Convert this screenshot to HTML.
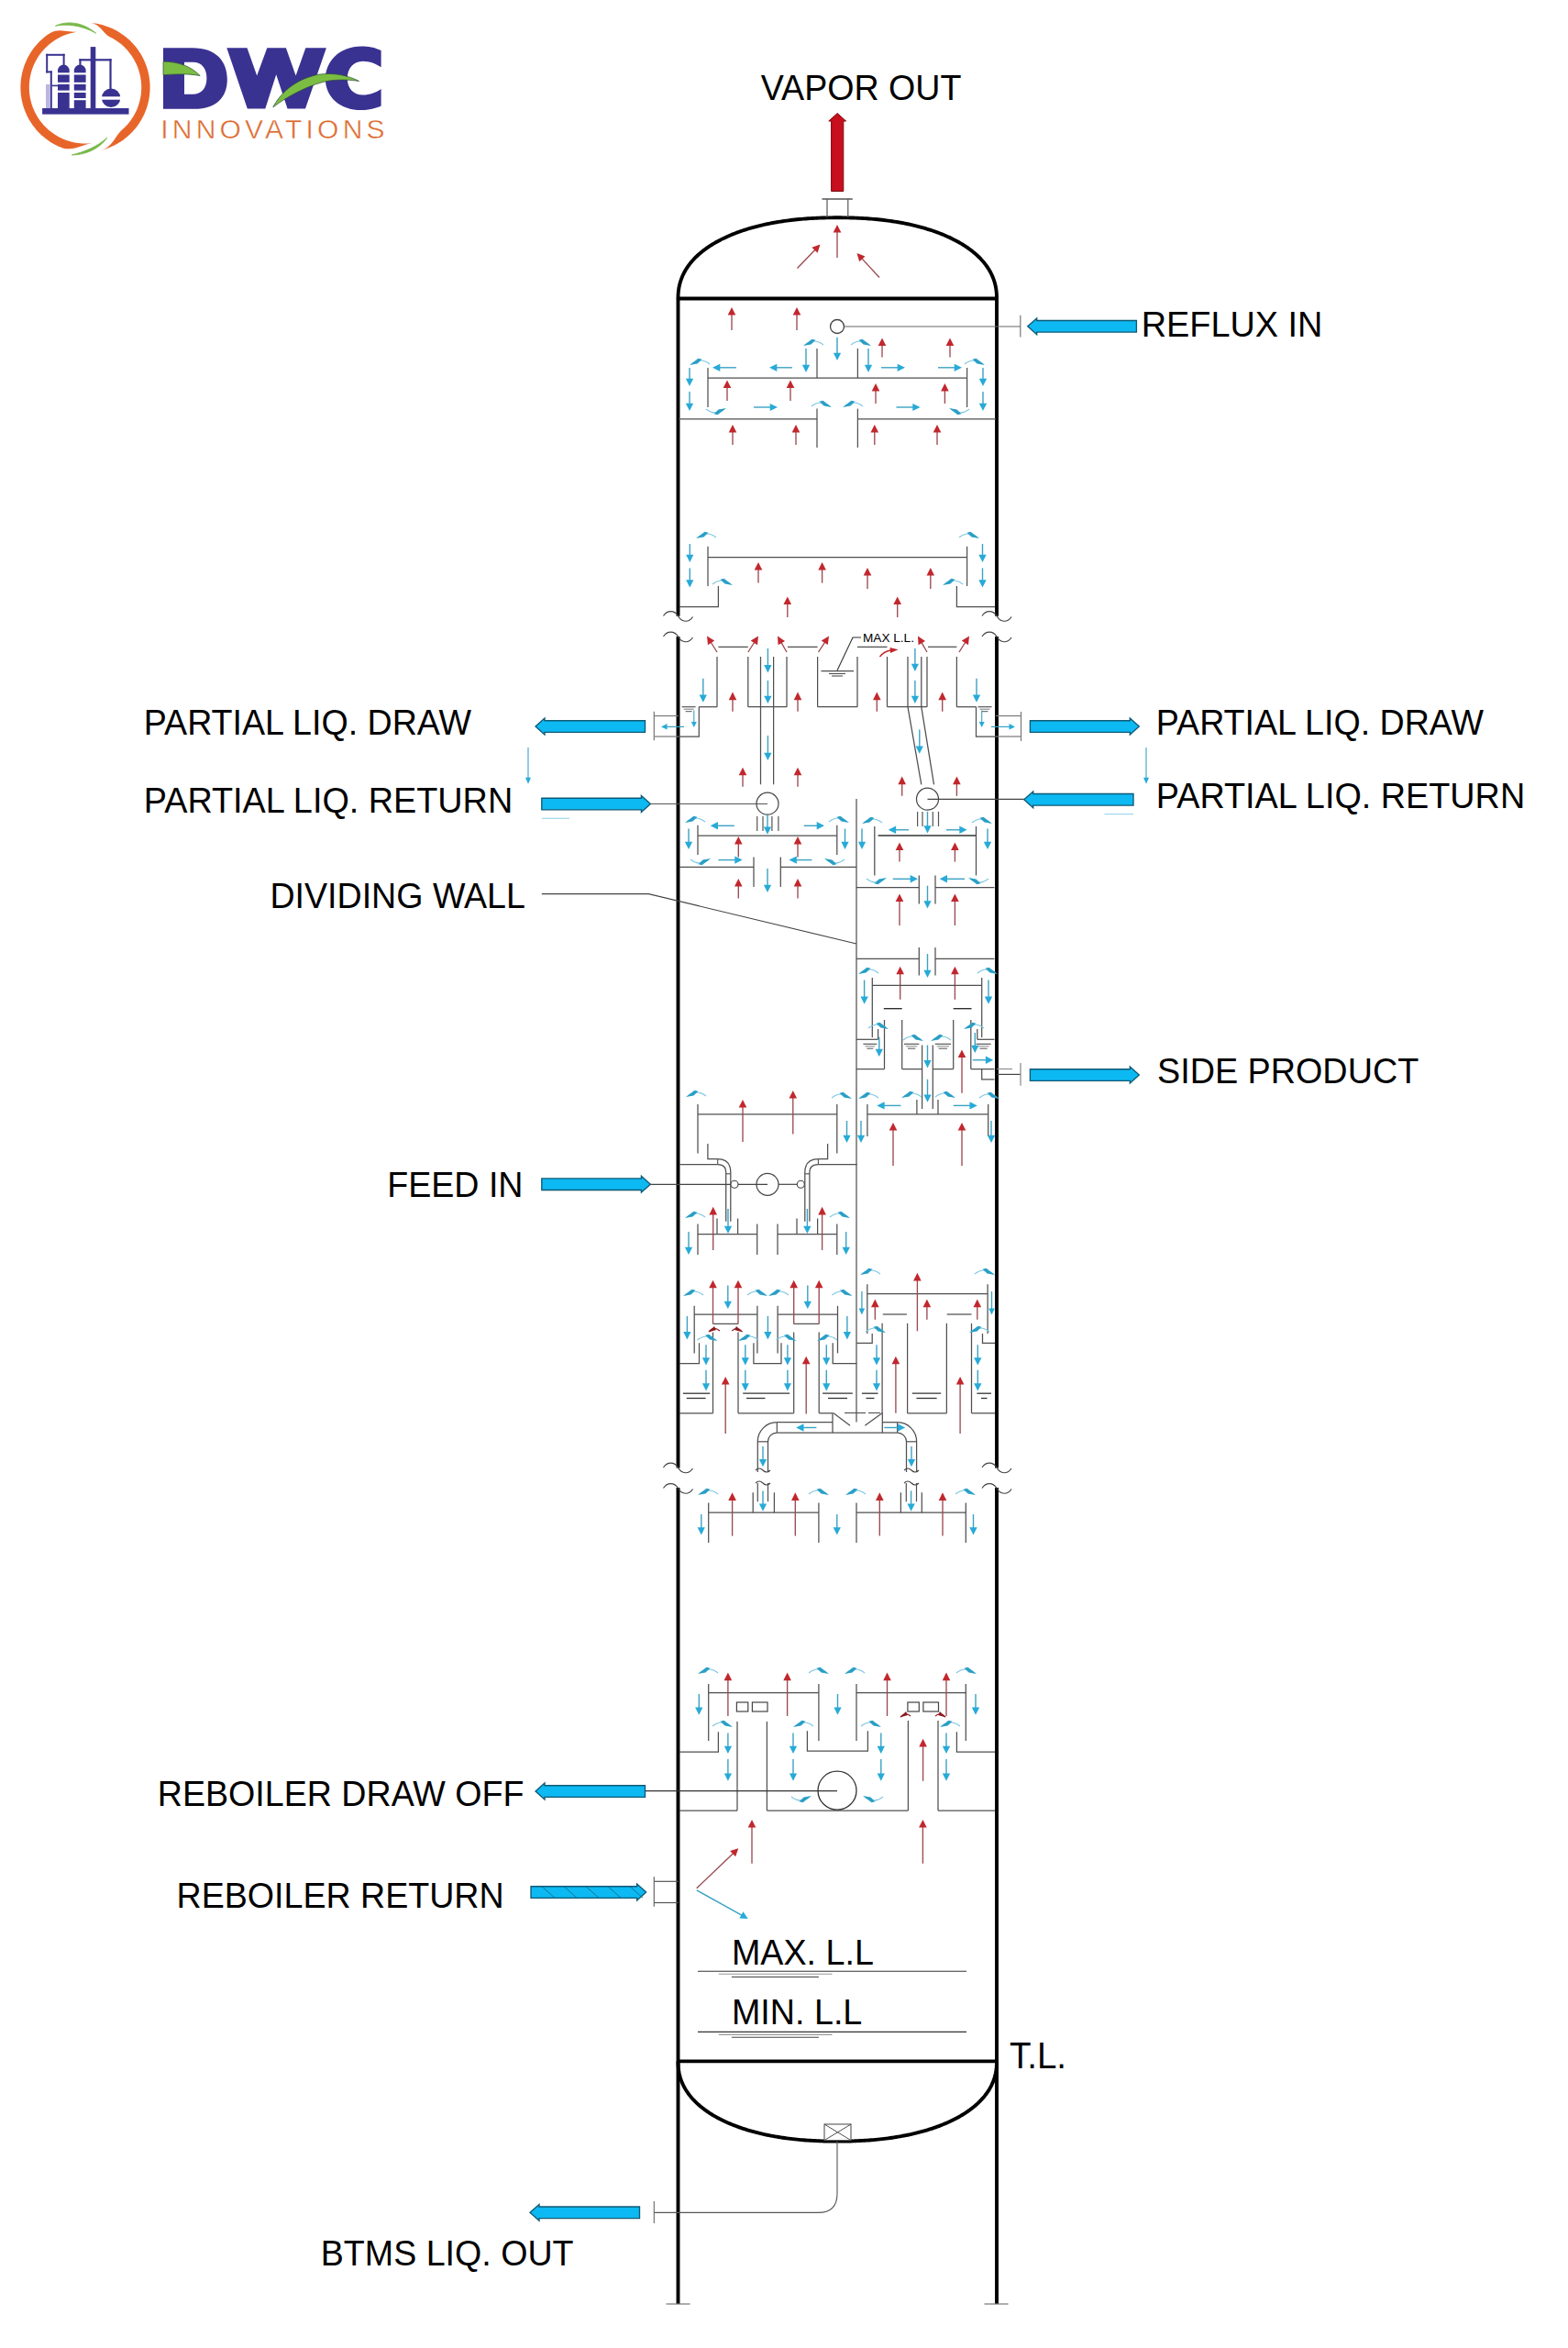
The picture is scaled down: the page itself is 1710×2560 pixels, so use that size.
<!DOCTYPE html>
<html><head><meta charset="utf-8"><style>
html,body{margin:0;padding:0;background:#fff;}
svg{display:block;}
text{font-family:"Liberation Sans",sans-serif;fill:#000;}
</style></head><body>
<svg width="1710" height="2560" viewBox="0 0 1710 2560">
<rect width="1710" height="2560" fill="#fff"/>
<polyline points="739.50,325.50 739.51,323.79 739.55,322.28 739.62,320.85 739.72,319.46 739.84,318.11 739.99,316.78 740.16,315.47 740.37,314.18 740.60,312.91 740.85,311.65 741.14,310.40 741.45,309.17 741.78,307.95 742.15,306.74 742.54,305.54 742.96,304.35 743.40,303.17 743.87,302.00 744.37,300.84 744.89,299.69 745.44,298.55 746.02,297.41 746.62,296.29 747.25,295.17 747.90,294.07 748.58,292.97 749.29,291.88 750.02,290.80 750.78,289.73 751.57,288.67 752.38,287.61 753.21,286.57 754.07,285.53 754.96,284.51 755.87,283.49 756.80,282.48 757.77,281.48 758.75,280.49 759.76,279.50 760.80,278.53 761.86,277.57 762.94,276.61 764.05,275.67 765.18,274.73 766.34,273.81 767.52,272.89 768.72,271.99 769.95,271.09 771.20,270.21 772.47,269.33 773.77,268.46 775.09,267.61 776.43,266.76 777.80,265.93 779.19,265.10 780.60,264.29 782.03,263.48 783.48,262.69 784.96,261.91 786.46,261.14 787.98,260.38 789.52,259.63 791.08,258.89 792.66,258.16 794.27,257.45 795.89,256.74 797.54,256.05 799.20,255.37 800.89,254.70 802.60,254.04 804.32,253.39 806.07,252.76 807.83,252.13 809.62,251.52 811.42,250.92 813.24,250.34 815.09,249.76 816.95,249.20 818.83,248.65 820.72,248.11 822.64,247.59 824.58,247.07 826.53,246.57 828.50,246.08 830.49,245.61 832.49,245.15 834.52,244.70 836.56,244.26 838.62,243.84 840.69,243.43 842.78,243.03 844.90,242.64 847.02,242.27 849.17,241.91 851.33,241.57 853.51,241.23 855.71,240.91 857.92,240.61 860.15,240.32 862.40,240.04 864.67,239.77 866.95,239.52 869.26,239.28 871.58,239.05 873.92,238.84 876.29,238.64 878.67,238.46 881.08,238.29 883.51,238.13 885.96,237.99 888.44,237.86 890.95,237.74 893.49,237.64 896.07,237.55 898.69,237.47 901.36,237.41 904.09,237.36 906.92,237.33 909.88,237.31 913.25,237.30 916.62,237.31 919.58,237.33 922.41,237.36 925.14,237.41 927.81,237.47 930.43,237.55 933.01,237.64 935.55,237.74 938.06,237.86 940.54,237.99 942.99,238.13 945.42,238.29 947.83,238.46 950.21,238.64 952.58,238.84 954.92,239.05 957.24,239.28 959.55,239.52 961.83,239.77 964.10,240.04 966.35,240.32 968.58,240.61 970.79,240.91 972.99,241.23 975.17,241.57 977.33,241.91 979.48,242.27 981.60,242.64 983.72,243.03 985.81,243.43 987.88,243.84 989.94,244.26 991.98,244.70 994.01,245.15 996.01,245.61 998.00,246.08 999.97,246.57 1001.92,247.07 1003.86,247.59 1005.78,248.11 1007.67,248.65 1009.55,249.20 1011.41,249.76 1013.26,250.34 1015.08,250.92 1016.88,251.52 1018.67,252.13 1020.43,252.76 1022.18,253.39 1023.90,254.04 1025.61,254.70 1027.30,255.37 1028.96,256.05 1030.61,256.74 1032.23,257.45 1033.84,258.16 1035.42,258.89 1036.98,259.63 1038.52,260.38 1040.04,261.14 1041.54,261.91 1043.02,262.69 1044.47,263.48 1045.90,264.29 1047.31,265.10 1048.70,265.93 1050.07,266.76 1051.41,267.61 1052.73,268.46 1054.03,269.33 1055.30,270.21 1056.55,271.09 1057.78,271.99 1058.98,272.89 1060.16,273.81 1061.32,274.73 1062.45,275.67 1063.56,276.61 1064.64,277.57 1065.70,278.53 1066.74,279.50 1067.75,280.49 1068.73,281.48 1069.70,282.48 1070.63,283.49 1071.54,284.51 1072.43,285.53 1073.29,286.57 1074.12,287.61 1074.93,288.67 1075.72,289.73 1076.48,290.80 1077.21,291.88 1077.92,292.97 1078.60,294.07 1079.25,295.17 1079.88,296.29 1080.48,297.41 1081.06,298.55 1081.61,299.69 1082.13,300.84 1082.63,302.00 1083.10,303.17 1083.54,304.35 1083.96,305.54 1084.35,306.74 1084.72,307.95 1085.05,309.17 1085.36,310.40 1085.65,311.65 1085.90,312.91 1086.13,314.18 1086.34,315.47 1086.51,316.78 1086.66,318.11 1086.78,319.46 1086.88,320.85 1086.95,322.28 1086.99,323.79 1087.00,325.50" fill="none" stroke="#000" stroke-width="3.9" stroke-linejoin="round"/>
<line x1="739.5" y1="325.5" x2="1087.0" y2="325.5" stroke="#000" stroke-width="3.9"/>
<line x1="739.5" y1="325" x2="739.5" y2="671.8" stroke="#000" stroke-width="3.9"/>
<line x1="1087.0" y1="325" x2="1087.0" y2="671.8" stroke="#000" stroke-width="3.9"/>
<line x1="739.5" y1="694" x2="739.5" y2="1600.5" stroke="#000" stroke-width="3.9"/>
<line x1="1087.0" y1="694" x2="1087.0" y2="1600.5" stroke="#000" stroke-width="3.9"/>
<line x1="739.5" y1="1622" x2="739.5" y2="2512" stroke="#000" stroke-width="3.9"/>
<line x1="1087.0" y1="1622" x2="1087.0" y2="2512" stroke="#000" stroke-width="3.9"/>
<path d="M723.5,671.5 C727.5,665.0 735.5,665.0 739.5,671.5 C743.5,679.0 751.5,679.0 755.5,672.5" fill="none" stroke="#444" stroke-width="1.2"/>
<path d="M723.5,694 C727.5,687.5 735.5,687.5 739.5,694 C743.5,701.5 751.5,701.5 755.5,695" fill="none" stroke="#444" stroke-width="1.2"/>
<path d="M723.5,1600 C727.5,1593.5 735.5,1593.5 739.5,1600 C743.5,1607.5 751.5,1607.5 755.5,1601" fill="none" stroke="#444" stroke-width="1.2"/>
<path d="M723.5,1622.5 C727.5,1616.0 735.5,1616.0 739.5,1622.5 C743.5,1630.0 751.5,1630.0 755.5,1623.5" fill="none" stroke="#444" stroke-width="1.2"/>
<path d="M1071.0,671.5 C1075.0,665.0 1083.0,665.0 1087.0,671.5 C1091.0,679.0 1099.0,679.0 1103.0,672.5" fill="none" stroke="#444" stroke-width="1.2"/>
<path d="M1071.0,694 C1075.0,687.5 1083.0,687.5 1087.0,694 C1091.0,701.5 1099.0,701.5 1103.0,695" fill="none" stroke="#444" stroke-width="1.2"/>
<path d="M1071.0,1600 C1075.0,1593.5 1083.0,1593.5 1087.0,1600 C1091.0,1607.5 1099.0,1607.5 1103.0,1601" fill="none" stroke="#444" stroke-width="1.2"/>
<path d="M1071.0,1622.5 C1075.0,1616.0 1083.0,1616.0 1087.0,1622.5 C1091.0,1630.0 1099.0,1630.0 1103.0,1623.5" fill="none" stroke="#444" stroke-width="1.2"/>
<line x1="739.5" y1="2247.4" x2="1087.0" y2="2247.4" stroke="#000" stroke-width="3.9"/>
<polyline points="739.50,2247.40 739.51,2249.09 739.55,2250.58 739.62,2252.00 739.72,2253.37 739.84,2254.71 739.99,2256.02 740.16,2257.32 740.37,2258.59 740.60,2259.85 740.85,2261.10 741.14,2262.33 741.45,2263.55 741.78,2264.75 742.15,2265.95 742.54,2267.14 742.96,2268.31 743.40,2269.48 743.87,2270.63 744.37,2271.78 744.89,2272.92 745.44,2274.05 746.02,2275.17 746.62,2276.28 747.25,2277.38 747.90,2278.48 748.58,2279.56 749.29,2280.64 750.02,2281.71 750.78,2282.76 751.57,2283.81 752.38,2284.86 753.21,2285.89 754.07,2286.91 754.96,2287.93 755.87,2288.94 756.80,2289.93 757.77,2290.92 758.75,2291.90 759.76,2292.87 760.80,2293.84 761.86,2294.79 762.94,2295.73 764.05,2296.67 765.18,2297.59 766.34,2298.50 767.52,2299.41 768.72,2300.31 769.95,2301.19 771.20,2302.07 772.47,2302.93 773.77,2303.79 775.09,2304.64 776.43,2305.47 777.80,2306.30 779.19,2307.11 780.60,2307.92 782.03,2308.71 783.48,2309.50 784.96,2310.27 786.46,2311.03 787.98,2311.79 789.52,2312.53 791.08,2313.26 792.66,2313.97 794.27,2314.68 795.89,2315.38 797.54,2316.06 799.20,2316.74 800.89,2317.40 802.60,2318.05 804.32,2318.69 806.07,2319.32 807.83,2319.93 809.62,2320.54 811.42,2321.13 813.24,2321.71 815.09,2322.28 816.95,2322.84 818.83,2323.38 820.72,2323.91 822.64,2324.43 824.58,2324.94 826.53,2325.43 828.50,2325.92 830.49,2326.38 832.49,2326.84 834.52,2327.29 836.56,2327.72 838.62,2328.14 840.69,2328.54 842.78,2328.94 844.90,2329.32 847.02,2329.69 849.17,2330.04 851.33,2330.38 853.51,2330.71 855.71,2331.03 857.92,2331.33 860.15,2331.62 862.40,2331.89 864.67,2332.16 866.95,2332.41 869.26,2332.64 871.58,2332.87 873.92,2333.08 876.29,2333.27 878.67,2333.45 881.08,2333.62 883.51,2333.78 885.96,2333.92 888.44,2334.05 890.95,2334.17 893.49,2334.27 896.07,2334.36 898.69,2334.43 901.36,2334.49 904.09,2334.54 906.92,2334.57 909.88,2334.59 913.25,2334.60 916.62,2334.59 919.58,2334.57 922.41,2334.54 925.14,2334.49 927.81,2334.43 930.43,2334.36 933.01,2334.27 935.55,2334.17 938.06,2334.05 940.54,2333.92 942.99,2333.78 945.42,2333.62 947.83,2333.45 950.21,2333.27 952.58,2333.08 954.92,2332.87 957.24,2332.64 959.55,2332.41 961.83,2332.16 964.10,2331.89 966.35,2331.62 968.58,2331.33 970.79,2331.03 972.99,2330.71 975.17,2330.38 977.33,2330.04 979.48,2329.69 981.60,2329.32 983.72,2328.94 985.81,2328.54 987.88,2328.14 989.94,2327.72 991.98,2327.29 994.01,2326.84 996.01,2326.38 998.00,2325.92 999.97,2325.43 1001.92,2324.94 1003.86,2324.43 1005.78,2323.91 1007.67,2323.38 1009.55,2322.84 1011.41,2322.28 1013.26,2321.71 1015.08,2321.13 1016.88,2320.54 1018.67,2319.93 1020.43,2319.32 1022.18,2318.69 1023.90,2318.05 1025.61,2317.40 1027.30,2316.74 1028.96,2316.06 1030.61,2315.38 1032.23,2314.68 1033.84,2313.97 1035.42,2313.26 1036.98,2312.53 1038.52,2311.79 1040.04,2311.03 1041.54,2310.27 1043.02,2309.50 1044.47,2308.71 1045.90,2307.92 1047.31,2307.11 1048.70,2306.30 1050.07,2305.47 1051.41,2304.64 1052.73,2303.79 1054.03,2302.93 1055.30,2302.07 1056.55,2301.19 1057.78,2300.31 1058.98,2299.41 1060.16,2298.50 1061.32,2297.59 1062.45,2296.67 1063.56,2295.73 1064.64,2294.79 1065.70,2293.84 1066.74,2292.87 1067.75,2291.90 1068.73,2290.92 1069.70,2289.93 1070.63,2288.94 1071.54,2287.93 1072.43,2286.91 1073.29,2285.89 1074.12,2284.86 1074.93,2283.81 1075.72,2282.76 1076.48,2281.71 1077.21,2280.64 1077.92,2279.56 1078.60,2278.48 1079.25,2277.38 1079.88,2276.28 1080.48,2275.17 1081.06,2274.05 1081.61,2272.92 1082.13,2271.78 1082.63,2270.63 1083.10,2269.48 1083.54,2268.31 1083.96,2267.14 1084.35,2265.95 1084.72,2264.75 1085.05,2263.55 1085.36,2262.33 1085.65,2261.10 1085.90,2259.85 1086.13,2258.59 1086.34,2257.32 1086.51,2256.02 1086.66,2254.71 1086.78,2253.37 1086.88,2252.00 1086.95,2250.58 1086.99,2249.09 1087.00,2247.40" fill="none" stroke="#000" stroke-width="3.9" stroke-linejoin="round"/>
<line x1="726.5" y1="2512" x2="752.5" y2="2512" stroke="#777" stroke-width="1.2"/>
<line x1="1073.5" y1="2512" x2="1099.5" y2="2512" stroke="#777" stroke-width="1.2"/>
<line x1="896.5" y1="217" x2="929.8" y2="217" stroke="#555" stroke-width="1.3"/>
<line x1="902" y1="217" x2="902" y2="237" stroke="#555" stroke-width="1.2"/>
<line x1="924.8" y1="217" x2="924.8" y2="237" stroke="#555" stroke-width="1.2"/>
<polygon points="906.6,208.5 906.6,132 903.8,132 913.2,123.5 922.6,132 919.8,132 919.8,208.5" fill="#c80f1e" stroke="#7a0a10" stroke-width="1"/>
<line x1="913.0" y1="281.0" x2="913.0" y2="252.6" stroke="#9a4a50" stroke-width="1.35"/>
<polygon points="913.0,245.0 917.3,253.6 908.7,253.6" fill="#c1272d"/>
<line x1="869.5" y1="292.5" x2="889.2" y2="272.0" stroke="#9a4a50" stroke-width="1.35"/>
<polygon points="894.5,266.5 891.6,275.7 885.4,269.7" fill="#c1272d"/>
<line x1="959.0" y1="302.5" x2="939.7" y2="281.6" stroke="#9a4a50" stroke-width="1.35"/>
<polygon points="934.5,276.0 943.5,279.4 937.2,285.2" fill="#c1272d"/>
<text transform="translate(829.8,109) scale(0.9588,1)" font-size="39.22">VAPOR OUT</text>
<text transform="translate(1244.8,366.6) scale(0.9645,1)" font-size="39.22">REFLUX IN</text>
<text transform="translate(156.8,801) scale(0.9588,1)" font-size="39.22">PARTIAL LIQ. DRAW</text>
<text transform="translate(156.8,885.5) scale(0.9636,1)" font-size="39.22">PARTIAL LIQ. RETURN</text>
<text transform="translate(294.4,989.5) scale(0.9588,1)" font-size="39.22">DIVIDING WALL</text>
<text transform="translate(1260.8,800.5) scale(0.9588,1)" font-size="39.22">PARTIAL LIQ. DRAW</text>
<text transform="translate(1260.8,880.5) scale(0.9636,1)" font-size="39.22">PARTIAL LIQ. RETURN</text>
<text transform="translate(1262,1181) scale(0.9626,1)" font-size="39.22">SIDE PRODUCT</text>
<text transform="translate(422.2,1305) scale(0.9588,1)" font-size="39.22">FEED IN</text>
<text transform="translate(171.8,1969) scale(0.9588,1)" font-size="39.22">REBOILER DRAW OFF</text>
<text transform="translate(192.5,2080) scale(0.9588,1)" font-size="39.22">REBOILER RETURN</text>
<text transform="translate(349.8,2470) scale(0.9588,1)" font-size="39.22">BTMS LIQ. OUT</text>
<text transform="translate(798,2141.5) scale(0.976,1)" font-size="38.6">MAX. L.L</text>
<text transform="translate(798,2207) scale(0.976,1)" font-size="38.6">MIN. L.L</text>
<text transform="translate(1101,2254.5) scale(0.9588,1)" font-size="40.16">T.L.</text>
<text x="941" y="700" font-size="13.6" text-anchor="start" >MAX L.L.</text>
<polygon points="1239.4,349.5 1130.7,349.5 1130.7,346.90000000000003 1120.7,355.8 1130.7,364.7 1130.7,362.1 1239.4,362.1" fill="#0cb9f2" stroke="#0f5a76" stroke-width="1.35"/>
<line x1="920.5" y1="356" x2="1112.8" y2="356" stroke="#666" stroke-width="1.2"/>
<line x1="1112.8" y1="343.7" x2="1112.8" y2="367.4" stroke="#777" stroke-width="1.2"/>
<polygon points="703.5,785.7 594,785.7 594,783.1 584,792 594,800.9 594,798.3 703.5,798.3" fill="#0cb9f2" stroke="#0f5a76" stroke-width="1.35"/>
<polygon points="1123.4,785.7 1232.3,785.7 1232.3,783.1 1242.3,792 1232.3,800.9 1232.3,798.3 1123.4,798.3" fill="#0cb9f2" stroke="#0f5a76" stroke-width="1.35"/>
<polygon points="590.8,870.2 699.4,870.2 699.4,867.6 709.4,876.5 699.4,885.4 699.4,882.8 590.8,882.8" fill="#0cb9f2" stroke="#0f5a76" stroke-width="1.35"/>
<polygon points="1236,865.5 1126.7,865.5 1126.7,862.9 1116.7,871.8 1126.7,880.6999999999999 1126.7,878.0999999999999 1236,878.0999999999999" fill="#0cb9f2" stroke="#0f5a76" stroke-width="1.35"/>
<polygon points="1123.4,1165.7 1232.3,1165.7 1232.3,1163.1 1242.3,1172 1232.3,1180.9 1232.3,1178.3 1123.4,1178.3" fill="#0cb9f2" stroke="#0f5a76" stroke-width="1.35"/>
<polygon points="590.8,1284.9 699.4,1284.9 699.4,1282.3 709.4,1291.2 699.4,1300.1000000000001 699.4,1297.5 590.8,1297.5" fill="#0cb9f2" stroke="#0f5a76" stroke-width="1.35"/>
<polygon points="703.5,1946.7 594,1946.7 594,1944.1 584,1953 594,1961.9 594,1959.3 703.5,1959.3" fill="#0cb9f2" stroke="#0f5a76" stroke-width="1.35"/>
<polygon points="579,2056.7 694.6,2056.7 694.6,2054.1 704.6,2063 694.6,2071.9 694.6,2069.3 579,2069.3" fill="#0cb9f2" stroke="#0f5a76" stroke-width="1.35"/>
<line x1="591" y1="2056.7" x2="605" y2="2069.3" stroke="#135f7c" stroke-width="0.8"/>
<line x1="615" y1="2056.7" x2="629" y2="2069.3" stroke="#135f7c" stroke-width="0.8"/>
<line x1="639" y1="2056.7" x2="653" y2="2069.3" stroke="#135f7c" stroke-width="0.8"/>
<line x1="663" y1="2056.7" x2="677" y2="2069.3" stroke="#135f7c" stroke-width="0.8"/>
<line x1="687" y1="2056.7" x2="701" y2="2069.3" stroke="#135f7c" stroke-width="0.8"/>
<polygon points="697.5,2406.0 588,2406.0 588,2403.4 578,2412.3 588,2421.2000000000003 588,2418.6000000000004 697.5,2418.6000000000004" fill="#0cb9f2" stroke="#0f5a76" stroke-width="1.35"/>
<polygon points="100.46,156.04 98.36,156.40 96.25,156.91 94.12,157.54 91.95,158.26 89.72,159.03 87.43,159.80 85.08,160.53 82.67,161.18 80.21,161.71 77.72,162.08 75.21,162.25 72.72,162.20 70.26,161.88 67.89,161.26 65.60,160.37 63.36,159.38 61.16,158.31 58.99,157.17 56.86,155.95 54.78,154.66 52.74,153.30 50.75,151.86 48.82,150.36 46.93,148.80 45.10,147.17 43.33,145.47 41.62,143.72 39.97,141.91 38.38,140.04 36.86,138.12 35.41,136.14 34.03,134.12 32.72,132.05 31.48,129.93 30.31,127.78 29.22,125.58 28.21,123.35 27.28,121.09 26.42,118.79 25.65,116.46 24.95,114.11 24.34,111.74 23.81,109.35 23.37,106.94 23.00,104.52 22.73,102.08 22.53,99.64 22.43,97.19 22.40,94.74 22.46,92.29 22.61,89.84 22.84,87.40 23.16,84.97 23.56,82.56 24.04,80.15 24.61,77.77 25.26,75.41 25.99,73.07 26.80,70.75 27.70,68.47 28.67,66.22 29.71,64.01 30.84,61.83 32.04,59.69 33.31,57.60 34.65,55.55 36.07,53.55 37.55,51.60 39.10,49.70 40.72,47.86 42.40,46.07 44.13,44.34 45.93,42.68 47.79,41.08 49.70,39.54 51.66,38.07 53.67,36.67 55.76,35.39 58.04,34.44 60.46,33.82 62.98,33.47 65.54,33.36 68.11,33.44 70.65,33.66 73.14,33.97 75.56,34.30 77.90,34.60 80.17,34.81 82.36,34.86 84.48,34.70 84.48,34.70 82.38,35.03 80.30,35.43 78.23,35.91 76.18,36.46 74.14,37.08 72.14,37.77 70.15,38.53 68.19,39.35 66.27,40.25 64.37,41.21 62.51,42.23 60.69,43.32 58.91,44.48 57.16,45.69 55.46,46.96 53.81,48.30 52.20,49.68 50.64,51.13 49.13,52.62 47.68,54.17 46.28,55.77 44.93,57.42 43.65,59.11 42.42,60.84 41.26,62.62 40.15,64.43 39.11,66.29 38.14,68.17 37.23,70.09 36.39,72.04 35.62,74.02 34.91,76.03 34.28,78.05 33.72,80.10 33.23,82.17 32.81,84.25 32.46,86.35 32.18,88.45 31.98,90.57 31.86,92.69 31.80,94.81 31.82,96.94 31.92,99.06 32.08,101.18 32.32,103.29 32.64,105.39 33.02,107.48 33.48,109.55 34.01,111.61 34.61,113.65 35.29,115.66 36.03,117.65 36.84,119.62 37.72,121.55 38.66,123.45 39.67,125.32 40.74,127.16 41.88,128.95 43.08,130.70 44.34,132.41 45.66,134.08 47.03,135.70 48.46,137.27 49.94,138.79 51.48,140.26 53.06,141.67 54.70,143.03 56.38,144.33 58.10,145.57 59.87,146.76 61.67,147.87 63.52,148.93 65.40,149.92 67.31,150.85 69.25,151.70 71.22,152.49 73.22,153.22 75.24,153.87 77.29,154.45 79.35,154.96 81.43,155.40 83.52,155.76 85.62,156.05 87.74,156.27 89.86,156.42 91.98,156.49 94.10,156.49 96.23,156.41 98.35,156.27 100.46,156.04" fill="#e8652a"/>
<polygon points="99.15,24.97 101.33,25.19 103.50,25.49 105.66,25.85 107.81,26.27 109.95,26.76 112.06,27.32 114.16,27.95 116.24,28.64 118.30,29.39 120.33,30.21 122.34,31.09 124.32,32.03 126.27,33.03 128.18,34.09 130.06,35.21 131.91,36.39 133.72,37.63 135.49,38.92 137.22,40.26 138.90,41.66 140.55,43.11 142.14,44.61 143.69,46.16 145.19,47.75 146.64,49.40 148.04,51.08 149.38,52.81 150.67,54.58 151.91,56.39 153.09,58.24 154.21,60.12 155.27,62.03 156.27,63.98 157.21,65.96 158.09,67.97 158.91,70.00 159.66,72.06 160.35,74.14 160.98,76.24 161.54,78.35 162.03,80.49 162.45,82.64 162.81,84.80 163.11,86.97 163.33,89.15 163.49,91.33 163.58,93.52 163.60,95.71 163.55,97.90 163.44,100.09 163.25,102.27 163.00,104.45 162.69,106.61 162.30,108.77 161.85,110.91 161.33,113.04 160.75,115.15 160.10,117.25 159.39,119.32 158.61,121.37 157.77,123.39 156.87,125.38 155.91,127.35 154.88,129.29 153.80,131.19 152.65,133.06 151.45,134.89 150.20,136.69 148.89,138.44 147.52,140.15 146.10,141.82 144.63,143.45 143.11,145.03 141.55,146.56 139.93,148.04 138.28,149.47 136.57,150.85 134.83,152.17 133.04,153.44 131.22,154.66 129.36,155.82 127.47,156.91 125.54,157.95 123.58,158.93 121.59,159.85 119.57,160.71 117.53,161.50 115.47,162.23 113.38,162.89 111.27,163.49 111.27,163.49 113.34,162.77 115.31,161.76 117.17,160.51 118.91,159.07 120.53,157.46 122.05,155.75 123.46,153.96 124.79,152.13 126.05,150.31 127.27,148.52 128.46,146.79 129.67,145.16 130.93,143.65 132.26,142.27 133.69,141.02 135.08,139.73 136.44,138.41 137.76,137.04 139.03,135.63 140.26,134.18 141.44,132.70 142.58,131.18 143.67,129.62 144.71,128.03 145.70,126.41 146.64,124.76 147.53,123.08 148.37,121.38 149.15,119.65 149.88,117.90 150.55,116.12 151.17,114.32 151.73,112.51 152.24,110.68 152.68,108.84 153.08,106.98 153.41,105.11 153.68,103.23 153.90,101.34 154.06,99.45 154.16,97.55 154.20,95.66 154.18,93.76 154.10,91.86 153.97,89.97 153.77,88.08 153.52,86.20 153.21,84.32 152.84,82.46 152.41,80.61 151.93,78.77 151.39,76.95 150.79,75.15 150.14,73.37 149.43,71.61 148.66,69.87 147.85,68.15 146.98,66.46 146.06,64.80 145.09,63.17 144.07,61.57 143.00,60.00 141.88,58.47 140.71,56.97 139.50,55.51 138.24,54.09 136.94,52.70 135.60,51.36 134.21,50.06 132.79,48.80 131.33,47.59 129.83,46.42 128.30,45.30 126.73,44.23 125.13,43.21 123.50,42.24 121.84,41.32 120.15,40.45 118.47,39.55 116.90,38.38 115.39,36.98 113.88,35.41 112.35,33.74 110.75,32.02 109.06,30.34 107.28,28.76 105.39,27.36 103.39,26.21 101.31,25.39 99.15,24.97" fill="#e8652a"/>
<path d="M60.4,28.2 C70,23.5 88,22 104.8,36.3 C88,27 72,26 60.4,28.2 Z" fill="#78b84a" stroke="#78b84a" stroke-width="0.8"/>
<path d="M78.3,169 C92,169 108,163 117,150 C106,160 92,165.5 78.3,169 Z" fill="#78b84a" stroke="#78b84a" stroke-width="0.8"/>
<g fill="#3a3291">
<rect x="46.1" y="118" width="94.4" height="6.6"/>
<rect x="98.7" y="51.1" width="5.6" height="67"/>
<rect x="86.4" y="64.2" width="35.2" height="2.2"/>
<rect x="86.4" y="64.2" width="2.1" height="9"/>
<rect x="119.4" y="64.2" width="2.2" height="33.5"/>
<rect x="50.2" y="58.8" width="20.4" height="2"/>
<rect x="50.2" y="58.8" width="2" height="20.6"/>
<rect x="50.2" y="77.4" width="6.6" height="2"/>
<rect x="54.8" y="77.4" width="2" height="40.6"/>
<rect x="68.6" y="58.8" width="2" height="13"/>
<rect x="56.8" y="92.6" width="6.2" height="1.6"/>
<path d="M63,118 V77 A6.35,6.5 0 0 1 75.7,77 V118 Z"/>
<path d="M80.8,118 V77 A6.4,6.5 0 0 1 93.6,77 V118 Z"/>
<circle cx="121.1" cy="106.7" r="10.2"/>
</g>
<g fill="#fff">
<rect x="62" y="79.3" width="14.7" height="2.2"/>
<rect x="62" y="89.8" width="14.7" height="2.1"/>
<rect x="62" y="98.6" width="14.7" height="2.4"/>
<rect x="79.8" y="79.3" width="14.8" height="2.2"/>
<rect x="79.8" y="89.8" width="14.8" height="2.1"/>
<rect x="79.8" y="98.6" width="14.8" height="2.4"/>
<rect x="79.8" y="107" width="14.8" height="2.2"/>
<rect x="109" y="105.3" width="25" height="3.4"/>
</g>
<rect x="50" y="92" width="4.8" height="26" fill="#b9b6e0"/>

<path fill-rule="evenodd" fill="#3a3291" d="M178,52.2 L210,52.2 C236,52.2 247.8,67 247.8,86.5 C247.8,106 236,118.8 212,118.8 L178,118.8 Z M201,67.7 L210,67.7 C220.5,67.7 225.4,75 225.4,85.2 C225.4,96 220,102.7 210,102.7 L201,102.7 Z"/>
<polygon fill="#3a3291" points="247.3,52.3 269.5,52.3 280.2,82.5 291.3,52.3 311.9,52.3 322.6,82.5 333.3,52.3 355.9,52.3 333,118.4 313.5,118.4 301.2,81.3 289.3,118.4 269.8,118.4"/>
<path fill="#3a3291" d="M415.6,55 C409,51.5 401,50.4 394.2,50.4 C370,50.4 354.9,67 354.9,86 C354.9,106 371,120.1 394,120.1 C402,120.1 410,118 415.6,115.5 L415.6,97 C410,101 403,103.5 396,103.5 C385,103.5 378.8,96 378.8,85.5 C378.8,75 385,66.7 395.8,66.7 C403,66.7 410,69.5 415.6,73.2 Z"/>
<path fill="#7bbd43" stroke="#2e4a3a" stroke-width="0.7" d="M178,67.1 C195,67.5 208,72 218.2,82.6 C208,80.5 195,80.5 178,81.7 Z"/>
<path fill="#7bbd43" stroke="#2e4a3a" stroke-width="0.7" d="M297.8,116.9 C305,103 320,87 347,81.2 C365,78.8 380,82.5 391.5,88.4 C378,86.5 364,86.5 352,89.5 C332,95 312,106 297.8,116.9 Z"/>
<text x="175.3" y="151.1" font-size="30" letter-spacing="4.2" fill="#dc6a2e" stroke="#fff" stroke-width="0.45" style="fill:#dc6a2e">INNOVATIONS</text>
<circle cx="913" cy="356" r="7.5" fill="#fff" stroke="#444" stroke-width="1.3"/>
<line x1="772" y1="412" x2="1054.6" y2="412" stroke="#4f4f4f" stroke-width="1.25"/>
<line x1="772" y1="401" x2="772" y2="444" stroke="#4f4f4f" stroke-width="1.25"/>
<line x1="1054.6" y1="401" x2="1054.6" y2="444" stroke="#4f4f4f" stroke-width="1.25"/>
<line x1="891" y1="380" x2="891" y2="412" stroke="#4f4f4f" stroke-width="1.25"/>
<line x1="935.4" y1="380" x2="935.4" y2="412" stroke="#4f4f4f" stroke-width="1.25"/>
<line x1="740" y1="456.8" x2="891" y2="456.8" stroke="#4f4f4f" stroke-width="1.25"/>
<line x1="935.4" y1="456.8" x2="1086" y2="456.8" stroke="#4f4f4f" stroke-width="1.25"/>
<line x1="891" y1="445.6" x2="891" y2="488" stroke="#4f4f4f" stroke-width="1.25"/>
<line x1="935.4" y1="445.6" x2="935.4" y2="488" stroke="#4f4f4f" stroke-width="1.25"/>
<line x1="798.0" y1="360.0" x2="798.0" y2="342.6" stroke="#9a4a50" stroke-width="1.35"/>
<polygon points="798.0,335.0 802.3,343.6 793.7,343.6" fill="#c1272d"/>
<line x1="869.0" y1="360.0" x2="869.0" y2="342.6" stroke="#9a4a50" stroke-width="1.35"/>
<polygon points="869.0,335.0 873.3,343.6 864.7,343.6" fill="#c1272d"/>
<line x1="962.0" y1="389.6" x2="962.0" y2="376.1" stroke="#9a4a50" stroke-width="1.35"/>
<polygon points="962.0,368.5 966.3,377.1 957.7,377.1" fill="#c1272d"/>
<line x1="1036.0" y1="389.6" x2="1036.0" y2="376.1" stroke="#9a4a50" stroke-width="1.35"/>
<polygon points="1036.0,368.5 1040.3,377.1 1031.7,377.1" fill="#c1272d"/>
<line x1="793.0" y1="437.0" x2="793.0" y2="422.1" stroke="#9a4a50" stroke-width="1.35"/>
<polygon points="793.0,414.5 797.3,423.1 788.7,423.1" fill="#c1272d"/>
<line x1="862.0" y1="437.0" x2="862.0" y2="422.1" stroke="#9a4a50" stroke-width="1.35"/>
<polygon points="862.0,414.5 866.3,423.1 857.7,423.1" fill="#c1272d"/>
<line x1="955.0" y1="440.0" x2="955.0" y2="425.6" stroke="#9a4a50" stroke-width="1.35"/>
<polygon points="955.0,418.0 959.3,426.6 950.7,426.6" fill="#c1272d"/>
<line x1="1030.4" y1="440.0" x2="1030.4" y2="425.6" stroke="#9a4a50" stroke-width="1.35"/>
<polygon points="1030.4,418.0 1034.7,426.6 1026.1,426.6" fill="#c1272d"/>
<line x1="799.0" y1="485.0" x2="799.0" y2="470.6" stroke="#9a4a50" stroke-width="1.35"/>
<polygon points="799.0,463.0 803.3,471.6 794.7,471.6" fill="#c1272d"/>
<line x1="868.0" y1="485.0" x2="868.0" y2="470.6" stroke="#9a4a50" stroke-width="1.35"/>
<polygon points="868.0,463.0 872.3,471.6 863.7,471.6" fill="#c1272d"/>
<line x1="953.8" y1="485.0" x2="953.8" y2="470.6" stroke="#9a4a50" stroke-width="1.35"/>
<polygon points="953.8,463.0 958.1,471.6 949.5,471.6" fill="#c1272d"/>
<line x1="1022.0" y1="485.0" x2="1022.0" y2="470.6" stroke="#9a4a50" stroke-width="1.35"/>
<polygon points="1022.0,463.0 1026.3,471.6 1017.7,471.6" fill="#c1272d"/>
<line x1="803.0" y1="400.8" x2="784.3" y2="400.8" stroke="#3aa2c4" stroke-width="1.4"/>
<polygon points="777.0,400.8 785.3,396.7 785.3,404.9" fill="#27aad8"/>
<line x1="864.0" y1="400.8" x2="846.3" y2="400.8" stroke="#3aa2c4" stroke-width="1.4"/>
<polygon points="839.0,400.8 847.3,396.7 847.3,404.9" fill="#27aad8"/>
<line x1="961.0" y1="400.8" x2="979.7" y2="400.8" stroke="#3aa2c4" stroke-width="1.4"/>
<polygon points="987.0,400.8 978.7,404.9 978.7,396.7" fill="#27aad8"/>
<line x1="1023.0" y1="400.8" x2="1041.7" y2="400.8" stroke="#3aa2c4" stroke-width="1.4"/>
<polygon points="1049.0,400.8 1040.7,404.9 1040.7,396.7" fill="#27aad8"/>
<line x1="822.0" y1="444.0" x2="840.7" y2="444.0" stroke="#3aa2c4" stroke-width="1.4"/>
<polygon points="848.0,444.0 839.7,448.1 839.7,439.9" fill="#27aad8"/>
<line x1="977.5" y1="444.0" x2="996.3" y2="444.0" stroke="#3aa2c4" stroke-width="1.4"/>
<polygon points="1003.6,444.0 995.3,448.1 995.3,439.9" fill="#27aad8"/>
<line x1="913.0" y1="367.7" x2="913.0" y2="385.7" stroke="#3aa2c4" stroke-width="1.4"/>
<polygon points="913.0,393.0 908.9,384.7 917.1,384.7" fill="#27aad8"/>
<line x1="879.0" y1="380.0" x2="879.0" y2="398.7" stroke="#3aa2c4" stroke-width="1.4"/>
<polygon points="879.0,406.0 874.9,397.7 883.1,397.7" fill="#27aad8"/>
<line x1="947.0" y1="380.0" x2="947.0" y2="398.7" stroke="#3aa2c4" stroke-width="1.4"/>
<polygon points="947.0,406.0 942.9,397.7 951.1,397.7" fill="#27aad8"/>
<line x1="752.0" y1="401.0" x2="752.0" y2="413.7" stroke="#3aa2c4" stroke-width="1.4"/>
<polygon points="752.0,421.0 747.9,412.7 756.1,412.7" fill="#27aad8"/>
<line x1="752.0" y1="427.0" x2="752.0" y2="440.7" stroke="#3aa2c4" stroke-width="1.4"/>
<polygon points="752.0,448.0 747.9,439.7 756.1,439.7" fill="#27aad8"/>
<line x1="1072.0" y1="401.0" x2="1072.0" y2="413.7" stroke="#3aa2c4" stroke-width="1.4"/>
<polygon points="1072.0,421.0 1067.8,412.7 1076.2,412.7" fill="#27aad8"/>
<line x1="1072.0" y1="427.0" x2="1072.0" y2="440.7" stroke="#3aa2c4" stroke-width="1.4"/>
<polygon points="1072.0,448.0 1067.8,439.7 1076.2,439.7" fill="#27aad8"/>
<g transform="translate(888,374) scale(-1.0,1.0)"><path d="M-10,2 Q0,-6 10,2" fill="none" stroke="#7cc6e0" stroke-width="1.1"/><polygon points="12,3 2.5,-4.3 -1.5,-3.2 3.5,1.4" fill="#2a9fc6"/></g>
<g transform="translate(938,374) scale(1.0,1.0)"><path d="M-10,2 Q0,-6 10,2" fill="none" stroke="#7cc6e0" stroke-width="1.1"/><polygon points="12,3 2.5,-4.3 -1.5,-3.2 3.5,1.4" fill="#2a9fc6"/></g>
<g transform="translate(764,395) scale(-1.0,1.0)"><path d="M-10,2 Q0,-6 10,2" fill="none" stroke="#7cc6e0" stroke-width="1.1"/><polygon points="12,3 2.5,-4.3 -1.5,-3.2 3.5,1.4" fill="#2a9fc6"/></g>
<g transform="translate(1062,395) scale(1.0,1.0)"><path d="M-10,2 Q0,-6 10,2" fill="none" stroke="#7cc6e0" stroke-width="1.1"/><polygon points="12,3 2.5,-4.3 -1.5,-3.2 3.5,1.4" fill="#2a9fc6"/></g>
<g transform="translate(780,448) scale(1.0,-1.0)"><path d="M-10,2 Q0,-6 10,2" fill="none" stroke="#7cc6e0" stroke-width="1.1"/><polygon points="12,3 2.5,-4.3 -1.5,-3.2 3.5,1.4" fill="#2a9fc6"/></g>
<g transform="translate(1047,448) scale(-1.0,-1.0)"><path d="M-10,2 Q0,-6 10,2" fill="none" stroke="#7cc6e0" stroke-width="1.1"/><polygon points="12,3 2.5,-4.3 -1.5,-3.2 3.5,1.4" fill="#2a9fc6"/></g>
<g transform="translate(895,441) scale(1.0,1.0)"><path d="M-10,2 Q0,-6 10,2" fill="none" stroke="#7cc6e0" stroke-width="1.1"/><polygon points="12,3 2.5,-4.3 -1.5,-3.2 3.5,1.4" fill="#2a9fc6"/></g>
<g transform="translate(931,441) scale(-1.0,1.0)"><path d="M-10,2 Q0,-6 10,2" fill="none" stroke="#7cc6e0" stroke-width="1.1"/><polygon points="12,3 2.5,-4.3 -1.5,-3.2 3.5,1.4" fill="#2a9fc6"/></g>
<line x1="772" y1="607.5" x2="1054.6" y2="607.5" stroke="#4f4f4f" stroke-width="1.25"/>
<line x1="772" y1="595.8" x2="772" y2="639" stroke="#4f4f4f" stroke-width="1.25"/>
<line x1="1054.6" y1="595.8" x2="1054.6" y2="639" stroke="#4f4f4f" stroke-width="1.25"/>
<polyline points="783.4,639 783.4,661.7 741,661.7" fill="none" stroke="#4f4f4f" stroke-width="1.25"/>
<polyline points="1043.4,639 1043.4,661.7 1085,661.7" fill="none" stroke="#4f4f4f" stroke-width="1.25"/>
<line x1="827.0" y1="635.6" x2="827.0" y2="620.6" stroke="#9a4a50" stroke-width="1.35"/>
<polygon points="827.0,613.0 831.3,621.6 822.7,621.6" fill="#c1272d"/>
<line x1="896.6" y1="635.6" x2="896.6" y2="620.6" stroke="#9a4a50" stroke-width="1.35"/>
<polygon points="896.6,613.0 900.9,621.6 892.3,621.6" fill="#c1272d"/>
<line x1="946.0" y1="642.0" x2="946.0" y2="626.6" stroke="#9a4a50" stroke-width="1.35"/>
<polygon points="946.0,619.0 950.3,627.6 941.7,627.6" fill="#c1272d"/>
<line x1="1014.8" y1="642.0" x2="1014.8" y2="626.6" stroke="#9a4a50" stroke-width="1.35"/>
<polygon points="1014.8,619.0 1019.1,627.6 1010.5,627.6" fill="#c1272d"/>
<line x1="858.8" y1="673.0" x2="858.8" y2="658.1" stroke="#9a4a50" stroke-width="1.35"/>
<polygon points="858.8,650.5 863.1,659.1 854.5,659.1" fill="#c1272d"/>
<line x1="978.7" y1="673.0" x2="978.7" y2="658.1" stroke="#9a4a50" stroke-width="1.35"/>
<polygon points="978.7,650.5 983.0,659.1 974.4,659.1" fill="#c1272d"/>
<line x1="752.3" y1="593.0" x2="752.3" y2="605.7" stroke="#3aa2c4" stroke-width="1.4"/>
<polygon points="752.3,613.0 748.1,604.7 756.4,604.7" fill="#27aad8"/>
<line x1="752.3" y1="619.4" x2="752.3" y2="633.2" stroke="#3aa2c4" stroke-width="1.4"/>
<polygon points="752.3,640.5 748.1,632.2 756.4,632.2" fill="#27aad8"/>
<line x1="1071.5" y1="593.0" x2="1071.5" y2="605.7" stroke="#3aa2c4" stroke-width="1.4"/>
<polygon points="1071.5,613.0 1067.3,604.7 1075.7,604.7" fill="#27aad8"/>
<line x1="1071.5" y1="619.4" x2="1071.5" y2="633.2" stroke="#3aa2c4" stroke-width="1.4"/>
<polygon points="1071.5,640.5 1067.3,632.2 1075.7,632.2" fill="#27aad8"/>
<g transform="translate(771,584) scale(-1.0,1.0)"><path d="M-10,2 Q0,-6 10,2" fill="none" stroke="#7cc6e0" stroke-width="1.1"/><polygon points="12,3 2.5,-4.3 -1.5,-3.2 3.5,1.4" fill="#2a9fc6"/></g>
<g transform="translate(787,635) scale(1.0,1.0)"><path d="M-10,2 Q0,-6 10,2" fill="none" stroke="#7cc6e0" stroke-width="1.1"/><polygon points="12,3 2.5,-4.3 -1.5,-3.2 3.5,1.4" fill="#2a9fc6"/></g>
<g transform="translate(1056,584) scale(1.0,1.0)"><path d="M-10,2 Q0,-6 10,2" fill="none" stroke="#7cc6e0" stroke-width="1.1"/><polygon points="12,3 2.5,-4.3 -1.5,-3.2 3.5,1.4" fill="#2a9fc6"/></g>
<g transform="translate(1040,635) scale(-1.0,1.0)"><path d="M-10,2 Q0,-6 10,2" fill="none" stroke="#7cc6e0" stroke-width="1.1"/><polygon points="12,3 2.5,-4.3 -1.5,-3.2 3.5,1.4" fill="#2a9fc6"/></g>
<line x1="783.4" y1="705.3" x2="815.8" y2="705.3" stroke="#4f4f4f" stroke-width="1.25"/>
<line x1="859" y1="705.3" x2="891.6" y2="705.3" stroke="#4f4f4f" stroke-width="1.25"/>
<line x1="935" y1="705.3" x2="967.5" y2="705.3" stroke="#4f4f4f" stroke-width="1.25"/>
<line x1="1012" y1="705.3" x2="1043.4" y2="705.3" stroke="#4f4f4f" stroke-width="1.25"/>
<line x1="782.0" y1="711.0" x2="775.1" y2="700.0" stroke="#9a4a50" stroke-width="1.35"/>
<polygon points="771.0,693.6 779.2,698.6 772.0,703.2" fill="#c1272d"/>
<line x1="815.8" y1="711.0" x2="822.9" y2="700.0" stroke="#9a4a50" stroke-width="1.35"/>
<polygon points="827.0,693.6 826.0,703.2 818.7,698.5" fill="#c1272d"/>
<line x1="858.0" y1="711.0" x2="851.8" y2="700.2" stroke="#9a4a50" stroke-width="1.35"/>
<polygon points="848.0,693.6 856.0,698.9 848.6,703.2" fill="#c1272d"/>
<line x1="892.5" y1="711.0" x2="899.8" y2="699.9" stroke="#9a4a50" stroke-width="1.35"/>
<polygon points="904.0,693.6 902.8,703.1 895.7,698.4" fill="#c1272d"/>
<line x1="1011.0" y1="711.0" x2="1004.8" y2="700.2" stroke="#9a4a50" stroke-width="1.35"/>
<polygon points="1001.0,693.6 1009.0,698.9 1001.6,703.2" fill="#c1272d"/>
<line x1="1046.0" y1="711.0" x2="1052.9" y2="700.0" stroke="#9a4a50" stroke-width="1.35"/>
<polygon points="1057.0,693.6 1056.0,703.2 1048.8,698.6" fill="#c1272d"/>
<line x1="782" y1="716" x2="782" y2="770.7" stroke="#4f4f4f" stroke-width="1.25"/>
<line x1="815.8" y1="716" x2="815.8" y2="770.7" stroke="#4f4f4f" stroke-width="1.25"/>
<line x1="858" y1="716" x2="858" y2="770.7" stroke="#4f4f4f" stroke-width="1.25"/>
<line x1="891.6" y1="716" x2="891.6" y2="770.7" stroke="#4f4f4f" stroke-width="1.25"/>
<line x1="935" y1="716" x2="935" y2="770.7" stroke="#4f4f4f" stroke-width="1.25"/>
<line x1="967.5" y1="716" x2="967.5" y2="770.7" stroke="#4f4f4f" stroke-width="1.25"/>
<line x1="1011" y1="716" x2="1011" y2="770.7" stroke="#4f4f4f" stroke-width="1.25"/>
<line x1="1043.4" y1="716" x2="1043.4" y2="770.7" stroke="#4f4f4f" stroke-width="1.25"/>
<line x1="762.3" y1="770.7" x2="782" y2="770.7" stroke="#4f4f4f" stroke-width="1.25"/>
<line x1="815.8" y1="770.7" x2="858" y2="770.7" stroke="#4f4f4f" stroke-width="1.25"/>
<line x1="891.6" y1="770.7" x2="935" y2="770.7" stroke="#4f4f4f" stroke-width="1.25"/>
<line x1="967.5" y1="770.7" x2="1011" y2="770.7" stroke="#4f4f4f" stroke-width="1.25"/>
<line x1="1043.4" y1="770.7" x2="1064.5" y2="770.7" stroke="#4f4f4f" stroke-width="1.25"/>
<polyline points="762.3,770.7 762.3,803 740,803" fill="none" stroke="#4f4f4f" stroke-width="1.25"/>
<polyline points="1064.5,770.7 1064.5,803 1086,803" fill="none" stroke="#4f4f4f" stroke-width="1.25"/>
<line x1="713.3" y1="780.5" x2="740" y2="780.5" stroke="#777" stroke-width="1.2"/>
<line x1="713.3" y1="803" x2="740" y2="803" stroke="#777" stroke-width="1.2"/>
<line x1="713.3" y1="775.7" x2="713.3" y2="807.3" stroke="#777" stroke-width="1.2"/>
<line x1="1086" y1="780.5" x2="1113.5" y2="780.5" stroke="#777" stroke-width="1.2"/>
<line x1="1086" y1="803" x2="1113.5" y2="803" stroke="#777" stroke-width="1.2"/>
<line x1="1113.5" y1="776" x2="1113.5" y2="808" stroke="#777" stroke-width="1.2"/>
<line x1="743.6" y1="770.7" x2="758.6" y2="770.7" stroke="#555" stroke-width="1.2"/>
<line x1="745.6" y1="773.2" x2="756.6" y2="773.2" stroke="#777" stroke-width="1"/>
<line x1="747.6" y1="775.7" x2="754.6" y2="775.7" stroke="#555" stroke-width="1"/>
<line x1="1066.5" y1="770.7" x2="1081.5" y2="770.7" stroke="#555" stroke-width="1.2"/>
<line x1="1068.5" y1="773.2" x2="1079.5" y2="773.2" stroke="#777" stroke-width="1"/>
<line x1="1070.5" y1="775.7" x2="1077.5" y2="775.7" stroke="#555" stroke-width="1"/>
<line x1="829.5" y1="716" x2="829.5" y2="855.3" stroke="#4f4f4f" stroke-width="1.25"/>
<line x1="843.6" y1="716" x2="843.6" y2="855.3" stroke="#4f4f4f" stroke-width="1.25"/>
<polyline points="990,716 990,770.7 1004.8,855.3" fill="none" stroke="#4f4f4f" stroke-width="1.25"/>
<polyline points="1004.8,716 1004.8,770.7 1018.5,855.3" fill="none" stroke="#4f4f4f" stroke-width="1.25"/>
<line x1="895.5" y1="731.7" x2="931" y2="731.7" stroke="#4f4f4f" stroke-width="1.25"/>
<line x1="904" y1="734.5" x2="922" y2="734.5" stroke="#4f4f4f" stroke-width="1.1"/>
<line x1="907" y1="737" x2="919" y2="737" stroke="#4f4f4f" stroke-width="1.1"/>
<polyline points="913,731 930,695 939,695" fill="none" stroke="#333" stroke-width="1.1"/>
<path d="M959.5,716 Q964,710 972,709" fill="none" stroke="#c1272d" stroke-width="1.3"/>
<polygon points="979.5,708.3 970.5,706 971,712" fill="#c1272d"/>
<line x1="837.4" y1="707.0" x2="837.4" y2="726.1" stroke="#3aa2c4" stroke-width="1.4"/>
<polygon points="837.4,733.4 833.2,725.1 841.5,725.1" fill="#27aad8"/>
<line x1="837.4" y1="742.0" x2="837.4" y2="759.7" stroke="#3aa2c4" stroke-width="1.4"/>
<polygon points="837.4,767.0 833.2,758.7 841.5,758.7" fill="#27aad8"/>
<line x1="837.4" y1="802.0" x2="837.4" y2="821.7" stroke="#3aa2c4" stroke-width="1.4"/>
<polygon points="837.4,829.0 833.2,820.7 841.5,820.7" fill="#27aad8"/>
<line x1="997.9" y1="707.0" x2="997.9" y2="724.7" stroke="#3aa2c4" stroke-width="1.4"/>
<polygon points="997.9,732.0 993.8,723.7 1002.0,723.7" fill="#27aad8"/>
<line x1="997.9" y1="742.0" x2="997.9" y2="759.7" stroke="#3aa2c4" stroke-width="1.4"/>
<polygon points="997.9,767.0 993.8,758.7 1002.0,758.7" fill="#27aad8"/>
<line x1="1002.8" y1="795.6" x2="1002.8" y2="814.4" stroke="#3aa2c4" stroke-width="1.4"/>
<polygon points="1002.8,821.7 998.6,813.4 1006.9,813.4" fill="#27aad8"/>
<line x1="766.8" y1="739.7" x2="766.8" y2="758.5" stroke="#3aa2c4" stroke-width="1.4"/>
<polygon points="766.8,765.8 762.6,757.5 770.9,757.5" fill="#27aad8"/>
<line x1="1065.0" y1="739.7" x2="1065.0" y2="758.5" stroke="#3aa2c4" stroke-width="1.4"/>
<polygon points="1065.0,765.8 1060.8,757.5 1069.2,757.5" fill="#27aad8"/>
<line x1="756.8" y1="774.5" x2="756.8" y2="788.0" stroke="#3aa2c4" stroke-width="1.1"/>
<polygon points="756.8,793.0 753.8,787.0 759.8,787.0" fill="#27aad8"/>
<line x1="1070.7" y1="774.5" x2="1070.7" y2="788.0" stroke="#3aa2c4" stroke-width="1.1"/>
<polygon points="1070.7,793.0 1067.7,787.0 1073.7,787.0" fill="#27aad8"/>
<line x1="746.0" y1="792.4" x2="726.5" y2="792.4" stroke="#3aa2c4" stroke-width="1.2"/>
<polygon points="721.0,792.4 727.5,789.1 727.5,795.6" fill="#27aad8"/>
<line x1="1081.0" y1="792.4" x2="1101.5" y2="792.4" stroke="#3aa2c4" stroke-width="1.2"/>
<polygon points="1107.0,792.4 1100.5,795.6 1100.5,789.1" fill="#27aad8"/>
<line x1="799.0" y1="775.7" x2="799.0" y2="762.2" stroke="#9a4a50" stroke-width="1.35"/>
<polygon points="799.0,754.6 803.3,763.2 794.7,763.2" fill="#c1272d"/>
<line x1="870.0" y1="775.7" x2="870.0" y2="762.2" stroke="#9a4a50" stroke-width="1.35"/>
<polygon points="870.0,754.6 874.3,763.2 865.7,763.2" fill="#c1272d"/>
<line x1="956.3" y1="775.7" x2="956.3" y2="762.2" stroke="#9a4a50" stroke-width="1.35"/>
<polygon points="956.3,754.6 960.6,763.2 952.0,763.2" fill="#c1272d"/>
<line x1="1027.7" y1="775.7" x2="1027.7" y2="762.2" stroke="#9a4a50" stroke-width="1.35"/>
<polygon points="1027.7,754.6 1032.0,763.2 1023.4,763.2" fill="#c1272d"/>
<line x1="810.0" y1="857.8" x2="810.0" y2="844.3" stroke="#9a4a50" stroke-width="1.35"/>
<polygon points="810.0,836.7 814.3,845.3 805.7,845.3" fill="#c1272d"/>
<line x1="870.0" y1="857.8" x2="870.0" y2="844.3" stroke="#9a4a50" stroke-width="1.35"/>
<polygon points="870.0,836.7 874.3,845.3 865.7,845.3" fill="#c1272d"/>
<line x1="983.7" y1="867.8" x2="983.7" y2="854.2" stroke="#9a4a50" stroke-width="1.35"/>
<polygon points="983.7,846.6 988.0,855.2 979.4,855.2" fill="#c1272d"/>
<line x1="1043.4" y1="867.8" x2="1043.4" y2="854.2" stroke="#9a4a50" stroke-width="1.35"/>
<polygon points="1043.4,846.6 1047.7,855.2 1039.1,855.2" fill="#c1272d"/>
<line x1="576.0" y1="815.0" x2="576.0" y2="848.8" stroke="#3aa2c4" stroke-width="1.1"/>
<polygon points="576.0,854.8 573.0,847.8 579.0,847.8" fill="#27aad8"/>
<line x1="1250.0" y1="815.0" x2="1250.0" y2="848.8" stroke="#3aa2c4" stroke-width="1.1"/>
<polygon points="1250.0,854.8 1247.0,847.8 1253.0,847.8" fill="#27aad8"/>
<line x1="590.8" y1="892.3" x2="621" y2="892.3" stroke="#9fd6ea" stroke-width="1.2"/>
<line x1="1204.5" y1="887.6" x2="1236" y2="887.6" stroke="#9fd6ea" stroke-width="1.2"/>
<line x1="934" y1="871" x2="934" y2="1550.6" stroke="#777" stroke-width="1.6"/>
<polyline points="590.8,974.6 707.4,974.6 934,1029" fill="none" stroke="#444" stroke-width="1.1"/>
<line x1="709.4" y1="876.5" x2="837" y2="876.5" stroke="#555" stroke-width="1.2"/>
<circle cx="837" cy="876.2" r="12" fill="none" stroke="#444" stroke-width="1.2"/>
<line x1="1011.5" y1="871.4" x2="1116.7" y2="871.4" stroke="#444" stroke-width="1.2"/>
<circle cx="1011.5" cy="871.2" r="12" fill="none" stroke="#444" stroke-width="1.2"/>
<line x1="825.7" y1="889.9" x2="825.7" y2="906" stroke="#555" stroke-width="1.2"/>
<line x1="832" y1="889.9" x2="832" y2="906" stroke="#555" stroke-width="1.2"/>
<line x1="841.9" y1="889.9" x2="841.9" y2="906" stroke="#555" stroke-width="1.2"/>
<line x1="848.9" y1="889.9" x2="848.9" y2="906" stroke="#555" stroke-width="1.2"/>
<line x1="1000.6" y1="884.9" x2="1000.6" y2="901" stroke="#555" stroke-width="1.2"/>
<line x1="1006" y1="884.9" x2="1006" y2="901" stroke="#555" stroke-width="1.2"/>
<line x1="1017.3" y1="884.9" x2="1017.3" y2="901" stroke="#555" stroke-width="1.2"/>
<line x1="1023.5" y1="884.9" x2="1023.5" y2="901" stroke="#555" stroke-width="1.2"/>
<line x1="761" y1="911" x2="912.8" y2="911" stroke="#4f4f4f" stroke-width="1.25"/>
<line x1="761" y1="899.8" x2="761" y2="932" stroke="#4f4f4f" stroke-width="1.25"/>
<line x1="912.8" y1="899.8" x2="912.8" y2="932" stroke="#4f4f4f" stroke-width="1.25"/>
<line x1="741" y1="945.3" x2="822" y2="945.3" stroke="#4f4f4f" stroke-width="1.25"/>
<line x1="851.3" y1="945.3" x2="934" y2="945.3" stroke="#4f4f4f" stroke-width="1.25"/>
<line x1="822" y1="934.6" x2="822" y2="967" stroke="#4f4f4f" stroke-width="1.25"/>
<line x1="851.3" y1="934.6" x2="851.3" y2="967" stroke="#4f4f4f" stroke-width="1.25"/>
<line x1="957.6" y1="911" x2="1064.5" y2="911" stroke="#333" stroke-width="1.4"/>
<line x1="953.8" y1="901" x2="953.8" y2="954.5" stroke="#4f4f4f" stroke-width="1.25"/>
<line x1="1064.5" y1="901" x2="1064.5" y2="954.5" stroke="#4f4f4f" stroke-width="1.25"/>
<line x1="934" y1="967.5" x2="1002.3" y2="967.5" stroke="#4f4f4f" stroke-width="1.25"/>
<line x1="1020" y1="967.5" x2="1084.4" y2="967.5" stroke="#4f4f4f" stroke-width="1.25"/>
<line x1="1002.3" y1="954.5" x2="1002.3" y2="985.6" stroke="#4f4f4f" stroke-width="1.25"/>
<line x1="1020" y1="954.5" x2="1020" y2="985.6" stroke="#4f4f4f" stroke-width="1.25"/>
<line x1="934" y1="1045.3" x2="1002.3" y2="1045.3" stroke="#4f4f4f" stroke-width="1.25"/>
<line x1="1020" y1="1045.3" x2="1084.4" y2="1045.3" stroke="#4f4f4f" stroke-width="1.25"/>
<line x1="1002.3" y1="1033" x2="1002.3" y2="1063.6" stroke="#4f4f4f" stroke-width="1.25"/>
<line x1="1020" y1="1033" x2="1020" y2="1063.6" stroke="#4f4f4f" stroke-width="1.25"/>
<line x1="805.3" y1="934.6" x2="805.3" y2="919.6" stroke="#9a4a50" stroke-width="1.35"/>
<polygon points="805.3,912.0 809.6,920.6 801.0,920.6" fill="#c1272d"/>
<line x1="805.3" y1="979.4" x2="805.3" y2="965.6" stroke="#9a4a50" stroke-width="1.35"/>
<polygon points="805.3,958.0 809.6,966.6 801.0,966.6" fill="#c1272d"/>
<line x1="870.0" y1="934.6" x2="870.0" y2="919.6" stroke="#9a4a50" stroke-width="1.35"/>
<polygon points="870.0,912.0 874.3,920.6 865.7,920.6" fill="#c1272d"/>
<line x1="870.0" y1="979.4" x2="870.0" y2="965.6" stroke="#9a4a50" stroke-width="1.35"/>
<polygon points="870.0,958.0 874.3,966.6 865.7,966.6" fill="#c1272d"/>
<line x1="981.0" y1="939.6" x2="981.0" y2="926.1" stroke="#9a4a50" stroke-width="1.35"/>
<polygon points="981.0,918.5 985.3,927.1 976.7,927.1" fill="#c1272d"/>
<line x1="981.0" y1="1009.0" x2="981.0" y2="982.0" stroke="#9a4a50" stroke-width="1.35"/>
<polygon points="981.0,974.4 985.3,983.0 976.7,983.0" fill="#c1272d"/>
<line x1="1041.4" y1="939.6" x2="1041.4" y2="926.1" stroke="#9a4a50" stroke-width="1.35"/>
<polygon points="1041.4,918.5 1045.7,927.1 1037.1,927.1" fill="#c1272d"/>
<line x1="1041.4" y1="1009.0" x2="1041.4" y2="982.0" stroke="#9a4a50" stroke-width="1.35"/>
<polygon points="1041.4,974.4 1045.7,983.0 1037.1,983.0" fill="#c1272d"/>
<line x1="800.8" y1="900.3" x2="782.0" y2="900.3" stroke="#3aa2c4" stroke-width="1.4"/>
<polygon points="774.7,900.3 783.0,896.1 783.0,904.4" fill="#27aad8"/>
<line x1="876.7" y1="900.3" x2="891.7" y2="900.3" stroke="#3aa2c4" stroke-width="1.4"/>
<polygon points="899.0,900.3 890.7,904.4 890.7,896.1" fill="#27aad8"/>
<line x1="783.4" y1="937.6" x2="802.3" y2="937.6" stroke="#3aa2c4" stroke-width="1.4"/>
<polygon points="809.6,937.6 801.3,941.8 801.3,933.5" fill="#27aad8"/>
<line x1="885.4" y1="937.6" x2="867.8" y2="937.6" stroke="#3aa2c4" stroke-width="1.4"/>
<polygon points="860.5,937.6 868.8,933.5 868.8,941.8" fill="#27aad8"/>
<line x1="837.0" y1="888.6" x2="837.0" y2="902.5" stroke="#3aa2c4" stroke-width="1.4"/>
<polygon points="837.0,909.8 832.9,901.5 841.1,901.5" fill="#27aad8"/>
<line x1="837.0" y1="947.0" x2="837.0" y2="965.7" stroke="#3aa2c4" stroke-width="1.4"/>
<polygon points="837.0,973.0 832.9,964.7 841.1,964.7" fill="#27aad8"/>
<line x1="751.0" y1="903.5" x2="751.0" y2="918.7" stroke="#3aa2c4" stroke-width="1.4"/>
<polygon points="751.0,926.0 746.9,917.7 755.1,917.7" fill="#27aad8"/>
<line x1="921.5" y1="903.5" x2="921.5" y2="918.7" stroke="#3aa2c4" stroke-width="1.4"/>
<polygon points="921.5,926.0 917.4,917.7 925.6,917.7" fill="#27aad8"/>
<line x1="991.0" y1="904.8" x2="976.1" y2="904.8" stroke="#3aa2c4" stroke-width="1.4"/>
<polygon points="968.8,904.8 977.1,900.6 977.1,908.9" fill="#27aad8"/>
<line x1="1032.0" y1="904.8" x2="1047.3" y2="904.8" stroke="#3aa2c4" stroke-width="1.4"/>
<polygon points="1054.6,904.8 1046.3,908.9 1046.3,900.6" fill="#27aad8"/>
<line x1="1011.5" y1="884.9" x2="1011.5" y2="901.2" stroke="#3aa2c4" stroke-width="1.4"/>
<polygon points="1011.5,908.5 1007.4,900.2 1015.6,900.2" fill="#27aad8"/>
<line x1="940.0" y1="903.5" x2="940.0" y2="918.7" stroke="#3aa2c4" stroke-width="1.4"/>
<polygon points="940.0,926.0 935.9,917.7 944.1,917.7" fill="#27aad8"/>
<line x1="1077.0" y1="903.5" x2="1077.0" y2="918.7" stroke="#3aa2c4" stroke-width="1.4"/>
<polygon points="1077.0,926.0 1072.8,917.7 1081.2,917.7" fill="#27aad8"/>
<line x1="973.7" y1="958.3" x2="993.7" y2="958.3" stroke="#3aa2c4" stroke-width="1.4"/>
<polygon points="1001.0,958.3 992.7,962.4 992.7,954.1" fill="#27aad8"/>
<line x1="1052.0" y1="958.3" x2="1032.0" y2="958.3" stroke="#3aa2c4" stroke-width="1.4"/>
<polygon points="1024.7,958.3 1033.0,954.1 1033.0,962.4" fill="#27aad8"/>
<line x1="1011.5" y1="965.7" x2="1011.5" y2="983.3" stroke="#3aa2c4" stroke-width="1.4"/>
<polygon points="1011.5,990.6 1007.4,982.3 1015.6,982.3" fill="#27aad8"/>
<g transform="translate(759,894) scale(-1.0,1.0)"><path d="M-10,2 Q0,-6 10,2" fill="none" stroke="#7cc6e0" stroke-width="1.1"/><polygon points="12,3 2.5,-4.3 -1.5,-3.2 3.5,1.4" fill="#2a9fc6"/></g>
<g transform="translate(914,894) scale(1.0,1.0)"><path d="M-10,2 Q0,-6 10,2" fill="none" stroke="#7cc6e0" stroke-width="1.1"/><polygon points="12,3 2.5,-4.3 -1.5,-3.2 3.5,1.4" fill="#2a9fc6"/></g>
<g transform="translate(763,939) scale(1.0,-1.0)"><path d="M-10,2 Q0,-6 10,2" fill="none" stroke="#7cc6e0" stroke-width="1.1"/><polygon points="12,3 2.5,-4.3 -1.5,-3.2 3.5,1.4" fill="#2a9fc6"/></g>
<g transform="translate(911,939) scale(-1.0,-1.0)"><path d="M-10,2 Q0,-6 10,2" fill="none" stroke="#7cc6e0" stroke-width="1.1"/><polygon points="12,3 2.5,-4.3 -1.5,-3.2 3.5,1.4" fill="#2a9fc6"/></g>
<g transform="translate(952,895) scale(-1.0,1.0)"><path d="M-10,2 Q0,-6 10,2" fill="none" stroke="#7cc6e0" stroke-width="1.1"/><polygon points="12,3 2.5,-4.3 -1.5,-3.2 3.5,1.4" fill="#2a9fc6"/></g>
<g transform="translate(1070,895) scale(1.0,1.0)"><path d="M-10,2 Q0,-6 10,2" fill="none" stroke="#7cc6e0" stroke-width="1.1"/><polygon points="12,3 2.5,-4.3 -1.5,-3.2 3.5,1.4" fill="#2a9fc6"/></g>
<g transform="translate(955,960) scale(1.0,-1.0)"><path d="M-10,2 Q0,-6 10,2" fill="none" stroke="#7cc6e0" stroke-width="1.1"/><polygon points="12,3 2.5,-4.3 -1.5,-3.2 3.5,1.4" fill="#2a9fc6"/></g>
<g transform="translate(1068,960) scale(-1.0,-1.0)"><path d="M-10,2 Q0,-6 10,2" fill="none" stroke="#7cc6e0" stroke-width="1.1"/><polygon points="12,3 2.5,-4.3 -1.5,-3.2 3.5,1.4" fill="#2a9fc6"/></g>
<line x1="981.7" y1="1089.8" x2="981.7" y2="1061.3" stroke="#9a4a50" stroke-width="1.35"/>
<polygon points="981.7,1053.7 986.0,1062.3 977.4,1062.3" fill="#c1272d"/>
<line x1="1041.4" y1="1089.8" x2="1041.4" y2="1061.3" stroke="#9a4a50" stroke-width="1.35"/>
<polygon points="1041.4,1053.7 1045.7,1062.3 1037.1,1062.3" fill="#c1272d"/>
<line x1="1011.5" y1="1040.0" x2="1011.5" y2="1058.7" stroke="#3aa2c4" stroke-width="1.4"/>
<polygon points="1011.5,1066.0 1007.4,1057.7 1015.6,1057.7" fill="#27aad8"/>
<line x1="951.3" y1="1074.3" x2="1070.7" y2="1074.3" stroke="#4f4f4f" stroke-width="1.25"/>
<line x1="951.3" y1="1066" x2="951.3" y2="1131" stroke="#4f4f4f" stroke-width="1.25"/>
<line x1="1070.7" y1="1066" x2="1070.7" y2="1131" stroke="#4f4f4f" stroke-width="1.25"/>
<line x1="963.8" y1="1099.7" x2="983.7" y2="1099.7" stroke="#222" stroke-width="1.3"/>
<line x1="1039.7" y1="1099.7" x2="1059.5" y2="1099.7" stroke="#222" stroke-width="1.3"/>
<line x1="964.5" y1="1112" x2="964.5" y2="1165.6" stroke="#4f4f4f" stroke-width="1.25"/>
<line x1="983.7" y1="1112" x2="983.7" y2="1165.6" stroke="#4f4f4f" stroke-width="1.25"/>
<line x1="1039.7" y1="1112" x2="1039.7" y2="1165.6" stroke="#4f4f4f" stroke-width="1.25"/>
<line x1="1058.8" y1="1112" x2="1058.8" y2="1165.6" stroke="#4f4f4f" stroke-width="1.25"/>
<line x1="934" y1="1165.6" x2="964.5" y2="1165.6" stroke="#4f4f4f" stroke-width="1.25"/>
<line x1="983.7" y1="1165.6" x2="1005.6" y2="1165.6" stroke="#4f4f4f" stroke-width="1.25"/>
<line x1="1017.3" y1="1165.6" x2="1039.7" y2="1165.6" stroke="#4f4f4f" stroke-width="1.25"/>
<line x1="1058.8" y1="1165.6" x2="1084.4" y2="1165.6" stroke="#4f4f4f" stroke-width="1.25"/>
<line x1="934" y1="1133.3" x2="957.6" y2="1133.3" stroke="#4f4f4f" stroke-width="1.25"/>
<line x1="957.6" y1="1122" x2="957.6" y2="1133.3" stroke="#4f4f4f" stroke-width="1.25"/>
<line x1="1065.8" y1="1133.3" x2="1084.4" y2="1133.3" stroke="#4f4f4f" stroke-width="1.25"/>
<line x1="1065.8" y1="1122" x2="1065.8" y2="1133.3" stroke="#4f4f4f" stroke-width="1.25"/>
<line x1="1005.6" y1="1139.5" x2="1005.6" y2="1209" stroke="#4f4f4f" stroke-width="1.25"/>
<line x1="1017.3" y1="1139.5" x2="1017.3" y2="1209" stroke="#4f4f4f" stroke-width="1.25"/>
<line x1="941.4" y1="1138.3" x2="956.3" y2="1138.3" stroke="#555" stroke-width="1.2"/>
<line x1="943.4" y1="1140.8" x2="954.3" y2="1140.8" stroke="#888" stroke-width="1"/>
<line x1="945.4" y1="1143.2" x2="952.3" y2="1143.2" stroke="#555" stroke-width="1"/>
<line x1="986" y1="1138.3" x2="1002.3" y2="1138.3" stroke="#555" stroke-width="1.2"/>
<line x1="988" y1="1140.8" x2="1000.3" y2="1140.8" stroke="#888" stroke-width="1"/>
<line x1="990" y1="1143.2" x2="998.3" y2="1143.2" stroke="#555" stroke-width="1"/>
<line x1="1019.7" y1="1138.3" x2="1037" y2="1138.3" stroke="#555" stroke-width="1.2"/>
<line x1="1021.7" y1="1140.8" x2="1035" y2="1140.8" stroke="#888" stroke-width="1"/>
<line x1="1023.7" y1="1143.2" x2="1033" y2="1143.2" stroke="#555" stroke-width="1"/>
<line x1="1064.5" y1="1138.3" x2="1080.7" y2="1138.3" stroke="#555" stroke-width="1.2"/>
<line x1="1066.5" y1="1140.8" x2="1078.7" y2="1140.8" stroke="#888" stroke-width="1"/>
<line x1="1068.5" y1="1143.2" x2="1076.7" y2="1143.2" stroke="#555" stroke-width="1"/>
<polyline points="1070.7,1165.6 1070.7,1176.8 1084.4,1176.8" fill="none" stroke="#4f4f4f" stroke-width="1.25"/>
<line x1="1087" y1="1165.5" x2="1104" y2="1165.5" stroke="#888" stroke-width="1.1"/>
<line x1="1087" y1="1171.4" x2="1113" y2="1171.4" stroke="#444" stroke-width="1.2"/>
<line x1="1113" y1="1159" x2="1113" y2="1183.8" stroke="#888" stroke-width="1.2"/>
<line x1="945.9" y1="1214.9" x2="1077.7" y2="1214.9" stroke="#4f4f4f" stroke-width="1.25"/>
<line x1="945.9" y1="1204" x2="945.9" y2="1239" stroke="#4f4f4f" stroke-width="1.25"/>
<line x1="1077.7" y1="1204" x2="1077.7" y2="1239" stroke="#4f4f4f" stroke-width="1.25"/>
<line x1="999.9" y1="1199" x2="999.9" y2="1214.9" stroke="#4f4f4f" stroke-width="1.25"/>
<line x1="1023" y1="1199" x2="1023" y2="1214.9" stroke="#4f4f4f" stroke-width="1.25"/>
<line x1="761" y1="1214.9" x2="912.8" y2="1214.9" stroke="#4f4f4f" stroke-width="1.25"/>
<line x1="761" y1="1204" x2="761" y2="1257.4" stroke="#4f4f4f" stroke-width="1.25"/>
<line x1="912.8" y1="1204" x2="912.8" y2="1257.4" stroke="#4f4f4f" stroke-width="1.25"/>
<line x1="1049.0" y1="1191.7" x2="1049.0" y2="1152.1" stroke="#9a4a50" stroke-width="1.35"/>
<polygon points="1049.0,1144.5 1053.3,1153.1 1044.7,1153.1" fill="#c1272d"/>
<line x1="974.0" y1="1271.0" x2="974.0" y2="1231.6" stroke="#9a4a50" stroke-width="1.35"/>
<polygon points="974.0,1224.0 978.3,1232.6 969.7,1232.6" fill="#c1272d"/>
<line x1="1049.0" y1="1271.0" x2="1049.0" y2="1231.6" stroke="#9a4a50" stroke-width="1.35"/>
<polygon points="1049.0,1224.0 1053.3,1232.6 1044.7,1232.6" fill="#c1272d"/>
<line x1="810.0" y1="1245.0" x2="810.0" y2="1206.6" stroke="#9a4a50" stroke-width="1.35"/>
<polygon points="810.0,1199.0 814.3,1207.6 805.7,1207.6" fill="#c1272d"/>
<line x1="864.8" y1="1236.5" x2="864.8" y2="1196.6" stroke="#9a4a50" stroke-width="1.35"/>
<polygon points="864.8,1189.0 869.1,1197.6 860.5,1197.6" fill="#c1272d"/>
<line x1="942.6" y1="1068.6" x2="942.6" y2="1087.4" stroke="#3aa2c4" stroke-width="1.4"/>
<polygon points="942.6,1094.7 938.5,1086.4 946.8,1086.4" fill="#27aad8"/>
<line x1="1078.0" y1="1068.6" x2="1078.0" y2="1087.4" stroke="#3aa2c4" stroke-width="1.4"/>
<polygon points="1078.0,1094.7 1073.8,1086.4 1082.2,1086.4" fill="#27aad8"/>
<line x1="958.8" y1="1130.8" x2="958.8" y2="1144.7" stroke="#3aa2c4" stroke-width="1.4"/>
<polygon points="958.8,1152.0 954.6,1143.7 962.9,1143.7" fill="#27aad8"/>
<line x1="1063.3" y1="1126.0" x2="1063.3" y2="1140.7" stroke="#3aa2c4" stroke-width="1.4"/>
<polygon points="1063.3,1148.0 1059.1,1139.7 1067.5,1139.7" fill="#27aad8"/>
<line x1="1011.5" y1="1139.5" x2="1011.5" y2="1157.1" stroke="#3aa2c4" stroke-width="1.4"/>
<polygon points="1011.5,1164.4 1007.4,1156.1 1015.6,1156.1" fill="#27aad8"/>
<line x1="1011.5" y1="1176.8" x2="1011.5" y2="1194.4" stroke="#3aa2c4" stroke-width="1.4"/>
<polygon points="1011.5,1201.7 1007.4,1193.4 1015.6,1193.4" fill="#27aad8"/>
<line x1="982.4" y1="1205.4" x2="963.6" y2="1205.4" stroke="#3aa2c4" stroke-width="1.4"/>
<polygon points="956.3,1205.4 964.6,1201.2 964.6,1209.6" fill="#27aad8"/>
<line x1="1039.7" y1="1205.4" x2="1058.5" y2="1205.4" stroke="#3aa2c4" stroke-width="1.4"/>
<polygon points="1065.8,1205.4 1057.5,1209.6 1057.5,1201.2" fill="#27aad8"/>
<line x1="1060.8" y1="1155.7" x2="1075.9" y2="1155.7" stroke="#3aa2c4" stroke-width="1.4"/>
<polygon points="1083.2,1155.7 1074.9,1159.9 1074.9,1151.5" fill="#27aad8"/>
<line x1="923.5" y1="1222.0" x2="923.5" y2="1238.7" stroke="#3aa2c4" stroke-width="1.4"/>
<polygon points="923.5,1246.0 919.4,1237.7 927.6,1237.7" fill="#27aad8"/>
<line x1="939.0" y1="1222.0" x2="939.0" y2="1238.7" stroke="#3aa2c4" stroke-width="1.4"/>
<polygon points="939.0,1246.0 934.9,1237.7 943.1,1237.7" fill="#27aad8"/>
<line x1="1081.0" y1="1222.0" x2="1081.0" y2="1238.7" stroke="#3aa2c4" stroke-width="1.4"/>
<polygon points="1081.0,1246.0 1076.8,1237.7 1085.2,1237.7" fill="#27aad8"/>
<g transform="translate(948,1059) scale(-1.0,1.0)"><path d="M-10,2 Q0,-6 10,2" fill="none" stroke="#7cc6e0" stroke-width="1.1"/><polygon points="12,3 2.5,-4.3 -1.5,-3.2 3.5,1.4" fill="#2a9fc6"/></g>
<g transform="translate(1076,1059) scale(1.0,1.0)"><path d="M-10,2 Q0,-6 10,2" fill="none" stroke="#7cc6e0" stroke-width="1.1"/><polygon points="12,3 2.5,-4.3 -1.5,-3.2 3.5,1.4" fill="#2a9fc6"/></g>
<g transform="translate(957,1119) scale(1.0,1.0)"><path d="M-10,2 Q0,-6 10,2" fill="none" stroke="#7cc6e0" stroke-width="1.1"/><polygon points="12,3 2.5,-4.3 -1.5,-3.2 3.5,1.4" fill="#2a9fc6"/></g>
<g transform="translate(1063,1119) scale(-1.0,1.0)"><path d="M-10,2 Q0,-6 10,2" fill="none" stroke="#7cc6e0" stroke-width="1.1"/><polygon points="12,3 2.5,-4.3 -1.5,-3.2 3.5,1.4" fill="#2a9fc6"/></g>
<g transform="translate(995,1132) scale(1.0,1.0)"><path d="M-10,2 Q0,-6 10,2" fill="none" stroke="#7cc6e0" stroke-width="1.1"/><polygon points="12,3 2.5,-4.3 -1.5,-3.2 3.5,1.4" fill="#2a9fc6"/></g>
<g transform="translate(1027,1132) scale(-1.0,1.0)"><path d="M-10,2 Q0,-6 10,2" fill="none" stroke="#7cc6e0" stroke-width="1.1"/><polygon points="12,3 2.5,-4.3 -1.5,-3.2 3.5,1.4" fill="#2a9fc6"/></g>
<g transform="translate(760,1193) scale(-1.0,1.0)"><path d="M-10,2 Q0,-6 10,2" fill="none" stroke="#7cc6e0" stroke-width="1.1"/><polygon points="12,3 2.5,-4.3 -1.5,-3.2 3.5,1.4" fill="#2a9fc6"/></g>
<g transform="translate(917,1195) scale(1.0,1.0)"><path d="M-10,2 Q0,-6 10,2" fill="none" stroke="#7cc6e0" stroke-width="1.1"/><polygon points="12,3 2.5,-4.3 -1.5,-3.2 3.5,1.4" fill="#2a9fc6"/></g>
<g transform="translate(948,1195) scale(-1.0,1.0)"><path d="M-10,2 Q0,-6 10,2" fill="none" stroke="#7cc6e0" stroke-width="1.1"/><polygon points="12,3 2.5,-4.3 -1.5,-3.2 3.5,1.4" fill="#2a9fc6"/></g>
<g transform="translate(995,1194) scale(-1.0,1.0)"><path d="M-10,2 Q0,-6 10,2" fill="none" stroke="#7cc6e0" stroke-width="1.1"/><polygon points="12,3 2.5,-4.3 -1.5,-3.2 3.5,1.4" fill="#2a9fc6"/></g>
<g transform="translate(1030,1194) scale(1.0,1.0)"><path d="M-10,2 Q0,-6 10,2" fill="none" stroke="#7cc6e0" stroke-width="1.1"/><polygon points="12,3 2.5,-4.3 -1.5,-3.2 3.5,1.4" fill="#2a9fc6"/></g>
<g transform="translate(1078,1195) scale(1.0,1.0)"><path d="M-10,2 Q0,-6 10,2" fill="none" stroke="#7cc6e0" stroke-width="1.1"/><polygon points="12,3 2.5,-4.3 -1.5,-3.2 3.5,1.4" fill="#2a9fc6"/></g>
<polyline points="771.9,1247 771.9,1263.6 782.7,1263.6" fill="none" stroke="#4f4f4f" stroke-width="1.25"/>
<path d="M782.7,1263.6 Q796.8,1263.6 796.8,1278.3 L796.8,1331.8" fill="none" stroke="#4f4f4f" stroke-width="1.25"/>
<polyline points="741.3,1269.6 782.7,1269.6" fill="none" stroke="#4f4f4f" stroke-width="1.25"/>
<path d="M782.7,1269.6 Q791.7,1269.6 791.7,1278.3 L791.7,1331.8" fill="none" stroke="#4f4f4f" stroke-width="1.25"/>
<line x1="782.7" y1="1263.6" x2="782.7" y2="1269.6" stroke="#4f4f4f" stroke-width="1.1"/>
<line x1="791.7" y1="1279.8" x2="796.8" y2="1279.8" stroke="#4f4f4f" stroke-width="1.1"/>
<polyline points="902.6,1247 902.6,1263.6 892.4,1263.6" fill="none" stroke="#4f4f4f" stroke-width="1.25"/>
<path d="M892.4,1263.6 Q877.8,1263.6 877.8,1278.3 L877.8,1331.8" fill="none" stroke="#4f4f4f" stroke-width="1.25"/>
<polyline points="934.5,1269.6 892.4,1269.6" fill="none" stroke="#4f4f4f" stroke-width="1.25"/>
<path d="M892.4,1269.6 Q882.9,1269.6 882.9,1278.3 L882.9,1331.8" fill="none" stroke="#4f4f4f" stroke-width="1.25"/>
<line x1="892.4" y1="1263.6" x2="892.4" y2="1269.6" stroke="#4f4f4f" stroke-width="1.1"/>
<line x1="877.8" y1="1279.8" x2="882.9" y2="1279.8" stroke="#4f4f4f" stroke-width="1.1"/>
<line x1="709.4" y1="1291.3" x2="837" y2="1291.3" stroke="#444" stroke-width="1.2"/>
<line x1="849" y1="1291.3" x2="869.5" y2="1291.3" stroke="#444" stroke-width="1.2"/>
<circle cx="837" cy="1291.3" r="12" fill="none" stroke="#444" stroke-width="1.2"/>
<circle cx="801" cy="1291.3" r="4" fill="#fff" stroke="#444" stroke-width="1.1"/>
<circle cx="873.3" cy="1291.3" r="4" fill="#fff" stroke="#444" stroke-width="1.1"/>
<line x1="761" y1="1345.7" x2="825.7" y2="1345.7" stroke="#4f4f4f" stroke-width="1.25"/>
<line x1="848" y1="1345.7" x2="912.8" y2="1345.7" stroke="#4f4f4f" stroke-width="1.25"/>
<line x1="761" y1="1334.5" x2="761" y2="1368" stroke="#4f4f4f" stroke-width="1.25"/>
<line x1="825.7" y1="1334.5" x2="825.7" y2="1368" stroke="#4f4f4f" stroke-width="1.25"/>
<line x1="848" y1="1334.5" x2="848" y2="1368" stroke="#4f4f4f" stroke-width="1.25"/>
<line x1="912.8" y1="1334.5" x2="912.8" y2="1368" stroke="#4f4f4f" stroke-width="1.25"/>
<line x1="782" y1="1328.5" x2="782" y2="1345.7" stroke="#4f4f4f" stroke-width="1.25"/>
<line x1="804.6" y1="1328.5" x2="804.6" y2="1345.7" stroke="#4f4f4f" stroke-width="1.25"/>
<line x1="869" y1="1328.5" x2="869" y2="1345.7" stroke="#4f4f4f" stroke-width="1.25"/>
<line x1="891.6" y1="1328.5" x2="891.6" y2="1345.7" stroke="#4f4f4f" stroke-width="1.25"/>
<line x1="777.7" y1="1363.0" x2="777.7" y2="1323.4" stroke="#9a4a50" stroke-width="1.35"/>
<polygon points="777.7,1315.8 782.0,1324.4 773.4,1324.4" fill="#c1272d"/>
<line x1="896.6" y1="1363.0" x2="896.6" y2="1323.4" stroke="#9a4a50" stroke-width="1.35"/>
<polygon points="896.6,1315.8 900.9,1324.4 892.3,1324.4" fill="#c1272d"/>
<line x1="794.0" y1="1318.0" x2="794.0" y2="1337.7" stroke="#3aa2c4" stroke-width="1.4"/>
<polygon points="794.0,1345.0 789.9,1336.7 798.1,1336.7" fill="#27aad8"/>
<line x1="880.4" y1="1318.0" x2="880.4" y2="1337.7" stroke="#3aa2c4" stroke-width="1.4"/>
<polygon points="880.4,1345.0 876.2,1336.7 884.5,1336.7" fill="#27aad8"/>
<line x1="751.0" y1="1343.0" x2="751.0" y2="1360.7" stroke="#3aa2c4" stroke-width="1.4"/>
<polygon points="751.0,1368.0 746.9,1359.7 755.1,1359.7" fill="#27aad8"/>
<line x1="922.7" y1="1343.0" x2="922.7" y2="1360.7" stroke="#3aa2c4" stroke-width="1.4"/>
<polygon points="922.7,1368.0 918.6,1359.7 926.9,1359.7" fill="#27aad8"/>
<g transform="translate(759,1325) scale(-1.0,1.0)"><path d="M-10,2 Q0,-6 10,2" fill="none" stroke="#7cc6e0" stroke-width="1.1"/><polygon points="12,3 2.5,-4.3 -1.5,-3.2 3.5,1.4" fill="#2a9fc6"/></g>
<g transform="translate(915,1325) scale(1.0,1.0)"><path d="M-10,2 Q0,-6 10,2" fill="none" stroke="#7cc6e0" stroke-width="1.1"/><polygon points="12,3 2.5,-4.3 -1.5,-3.2 3.5,1.4" fill="#2a9fc6"/></g>
<line x1="757.2" y1="1433" x2="825.9" y2="1433" stroke="#4f4f4f" stroke-width="1.25"/>
<line x1="848.1" y1="1433" x2="913.5" y2="1433" stroke="#4f4f4f" stroke-width="1.25"/>
<line x1="757.2" y1="1423.8" x2="757.2" y2="1475.4" stroke="#4f4f4f" stroke-width="1.25"/>
<line x1="825.9" y1="1423.8" x2="825.9" y2="1475.4" stroke="#4f4f4f" stroke-width="1.25"/>
<line x1="848.1" y1="1423.8" x2="848.1" y2="1475.4" stroke="#4f4f4f" stroke-width="1.25"/>
<line x1="913.5" y1="1423.8" x2="913.5" y2="1475.4" stroke="#4f4f4f" stroke-width="1.25"/>
<line x1="777.5" y1="1443.4" x2="805" y2="1443.4" stroke="#4f4f4f" stroke-width="1.25"/>
<line x1="777.5" y1="1443.4" x2="777.5" y2="1403.3" stroke="#9a4a50" stroke-width="1.35"/>
<polygon points="777.5,1395.7 781.8,1404.3 773.2,1404.3" fill="#c1272d"/>
<line x1="805.0" y1="1443.4" x2="805.0" y2="1403.3" stroke="#9a4a50" stroke-width="1.35"/>
<polygon points="805.0,1395.7 809.3,1404.3 800.7,1404.3" fill="#c1272d"/>
<line x1="865.7" y1="1443.4" x2="893.2" y2="1443.4" stroke="#4f4f4f" stroke-width="1.25"/>
<line x1="865.7" y1="1443.4" x2="865.7" y2="1403.3" stroke="#9a4a50" stroke-width="1.35"/>
<polygon points="865.7,1395.7 870.0,1404.3 861.4,1404.3" fill="#c1272d"/>
<line x1="893.2" y1="1443.4" x2="893.2" y2="1403.3" stroke="#9a4a50" stroke-width="1.35"/>
<polygon points="893.2,1395.7 897.5,1404.3 888.9,1404.3" fill="#c1272d"/>
<line x1="793.8" y1="1401.6" x2="793.8" y2="1419.7" stroke="#3aa2c4" stroke-width="1.4"/>
<polygon points="793.8,1427.0 789.6,1418.7 797.9,1418.7" fill="#27aad8"/>
<line x1="880.8" y1="1401.6" x2="880.8" y2="1419.7" stroke="#3aa2c4" stroke-width="1.4"/>
<polygon points="880.8,1427.0 876.6,1418.7 884.9,1418.7" fill="#27aad8"/>
<line x1="749.4" y1="1435.0" x2="749.4" y2="1453.1" stroke="#3aa2c4" stroke-width="1.4"/>
<polygon points="749.4,1460.4 745.2,1452.1 753.5,1452.1" fill="#27aad8"/>
<line x1="837.4" y1="1435.0" x2="837.4" y2="1453.1" stroke="#3aa2c4" stroke-width="1.4"/>
<polygon points="837.4,1460.4 833.2,1452.1 841.5,1452.1" fill="#27aad8"/>
<line x1="923.9" y1="1435.0" x2="923.9" y2="1453.1" stroke="#3aa2c4" stroke-width="1.4"/>
<polygon points="923.9,1460.4 919.8,1452.1 928.0,1452.1" fill="#27aad8"/>
<g transform="translate(757,1410) scale(-1.0,1.0)"><path d="M-10,2 Q0,-6 10,2" fill="none" stroke="#7cc6e0" stroke-width="1.1"/><polygon points="12,3 2.5,-4.3 -1.5,-3.2 3.5,1.4" fill="#2a9fc6"/></g>
<g transform="translate(825,1410) scale(1.0,1.0)"><path d="M-10,2 Q0,-6 10,2" fill="none" stroke="#7cc6e0" stroke-width="1.1"/><polygon points="12,3 2.5,-4.3 -1.5,-3.2 3.5,1.4" fill="#2a9fc6"/></g>
<g transform="translate(850,1410) scale(-1.0,1.0)"><path d="M-10,2 Q0,-6 10,2" fill="none" stroke="#7cc6e0" stroke-width="1.1"/><polygon points="12,3 2.5,-4.3 -1.5,-3.2 3.5,1.4" fill="#2a9fc6"/></g>
<g transform="translate(917.5,1410) scale(1.0,1.0)"><path d="M-10,2 Q0,-6 10,2" fill="none" stroke="#7cc6e0" stroke-width="1.1"/><polygon points="12,3 2.5,-4.3 -1.5,-3.2 3.5,1.4" fill="#2a9fc6"/></g>
<path d="M773,1452 Q778,1445 785,1451" fill="none" stroke="#8e1b20" stroke-width="1.2"/><polygon points="772.5,1452.5 779,1446 781,1450" fill="#8e1b20"/>
<path d="M798.4,1451 Q804,1445 809.5,1452" fill="none" stroke="#8e1b20" stroke-width="1.2"/><polygon points="810,1452.5 803,1446 801,1450" fill="#8e1b20"/>
<line x1="777.5" y1="1452.6" x2="777.5" y2="1540.8" stroke="#4f4f4f" stroke-width="1.25"/>
<line x1="805" y1="1452.6" x2="805" y2="1540.8" stroke="#4f4f4f" stroke-width="1.25"/>
<line x1="865.7" y1="1452.6" x2="865.7" y2="1540.8" stroke="#4f4f4f" stroke-width="1.25"/>
<line x1="893.2" y1="1452.6" x2="893.2" y2="1540.8" stroke="#4f4f4f" stroke-width="1.25"/>
<line x1="740.9" y1="1540.8" x2="777.5" y2="1540.8" stroke="#4f4f4f" stroke-width="1.25"/>
<line x1="805" y1="1540.8" x2="865.7" y2="1540.8" stroke="#4f4f4f" stroke-width="1.25"/>
<line x1="893.2" y1="1540.8" x2="908" y2="1540.8" stroke="#4f4f4f" stroke-width="1.25"/>
<polyline points="762.5,1464.3 762.5,1486.5 741,1486.5" fill="none" stroke="#4f4f4f" stroke-width="1.25"/>
<polyline points="821.9,1464.3 821.9,1486.5 852,1486.5 852,1464.3" fill="none" stroke="#4f4f4f" stroke-width="1.25"/>
<polyline points="908.2,1464.3 908.2,1486.5 934.3,1486.5" fill="none" stroke="#4f4f4f" stroke-width="1.25"/>
<line x1="770.0" y1="1466.3" x2="770.0" y2="1481.2" stroke="#3aa2c4" stroke-width="1.4"/>
<polygon points="770.0,1488.5 765.9,1480.2 774.1,1480.2" fill="#27aad8"/>
<line x1="770.0" y1="1493.7" x2="770.0" y2="1509.3" stroke="#3aa2c4" stroke-width="1.4"/>
<polygon points="770.0,1516.6 765.9,1508.3 774.1,1508.3" fill="#27aad8"/>
<line x1="812.8" y1="1466.3" x2="812.8" y2="1481.2" stroke="#3aa2c4" stroke-width="1.4"/>
<polygon points="812.8,1488.5 808.6,1480.2 816.9,1480.2" fill="#27aad8"/>
<line x1="812.8" y1="1493.7" x2="812.8" y2="1509.3" stroke="#3aa2c4" stroke-width="1.4"/>
<polygon points="812.8,1516.6 808.6,1508.3 816.9,1508.3" fill="#27aad8"/>
<line x1="858.9" y1="1466.3" x2="858.9" y2="1481.2" stroke="#3aa2c4" stroke-width="1.4"/>
<polygon points="858.9,1488.5 854.8,1480.2 863.0,1480.2" fill="#27aad8"/>
<line x1="858.9" y1="1493.7" x2="858.9" y2="1509.3" stroke="#3aa2c4" stroke-width="1.4"/>
<polygon points="858.9,1516.6 854.8,1508.3 863.0,1508.3" fill="#27aad8"/>
<line x1="901.3" y1="1466.3" x2="901.3" y2="1481.2" stroke="#3aa2c4" stroke-width="1.4"/>
<polygon points="901.3,1488.5 897.1,1480.2 905.4,1480.2" fill="#27aad8"/>
<line x1="901.3" y1="1493.7" x2="901.3" y2="1509.3" stroke="#3aa2c4" stroke-width="1.4"/>
<polygon points="901.3,1516.6 897.1,1508.3 905.4,1508.3" fill="#27aad8"/>
<line x1="744.8" y1="1519.2" x2="774.2" y2="1519.2" stroke="#333" stroke-width="1.3"/>
<line x1="810.2" y1="1519.2" x2="861.2" y2="1519.2" stroke="#333" stroke-width="1.3"/>
<line x1="897.1" y1="1519.2" x2="929.8" y2="1519.2" stroke="#333" stroke-width="1.3"/>
<line x1="748.7" y1="1524.5" x2="769.6" y2="1524.5" stroke="#333" stroke-width="1.3"/>
<line x1="814" y1="1524.5" x2="834.4" y2="1524.5" stroke="#333" stroke-width="1.3"/>
<line x1="903" y1="1524.5" x2="924" y2="1524.5" stroke="#333" stroke-width="1.3"/>
<g transform="translate(770.5,1459) scale(1.0,1.0)"><path d="M-10,2 Q0,-6 10,2" fill="none" stroke="#7cc6e0" stroke-width="1.1"/><polygon points="12,3 2.5,-4.3 -1.5,-3.2 3.5,1.4" fill="#2a9fc6"/></g>
<g transform="translate(817,1459) scale(-1.0,1.0)"><path d="M-10,2 Q0,-6 10,2" fill="none" stroke="#7cc6e0" stroke-width="1.1"/><polygon points="12,3 2.5,-4.3 -1.5,-3.2 3.5,1.4" fill="#2a9fc6"/></g>
<g transform="translate(856.5,1459) scale(1.0,1.0)"><path d="M-10,2 Q0,-6 10,2" fill="none" stroke="#7cc6e0" stroke-width="1.1"/><polygon points="12,3 2.5,-4.3 -1.5,-3.2 3.5,1.4" fill="#2a9fc6"/></g>
<g transform="translate(903,1459) scale(-1.0,1.0)"><path d="M-10,2 Q0,-6 10,2" fill="none" stroke="#7cc6e0" stroke-width="1.1"/><polygon points="12,3 2.5,-4.3 -1.5,-3.2 3.5,1.4" fill="#2a9fc6"/></g>
<line x1="791.2" y1="1563.0" x2="791.2" y2="1508.6" stroke="#9a4a50" stroke-width="1.35"/>
<polygon points="791.2,1501.0 795.5,1509.6 786.9,1509.6" fill="#c1272d"/>
<line x1="879.2" y1="1541.5" x2="879.2" y2="1486.3" stroke="#9a4a50" stroke-width="1.35"/>
<polygon points="879.2,1478.7 883.5,1487.3 874.9,1487.3" fill="#c1272d"/>
<line x1="945.8" y1="1410.7" x2="1077.1" y2="1410.7" stroke="#4f4f4f" stroke-width="1.25"/>
<line x1="945.8" y1="1400.3" x2="945.8" y2="1453.9" stroke="#4f4f4f" stroke-width="1.25"/>
<line x1="1077.1" y1="1400.3" x2="1077.1" y2="1453.9" stroke="#4f4f4f" stroke-width="1.25"/>
<line x1="1000.4" y1="1451.3" x2="1000.4" y2="1395.4" stroke="#9a4a50" stroke-width="1.35"/>
<polygon points="1000.4,1387.8 1004.7,1396.4 996.1,1396.4" fill="#c1272d"/>
<line x1="954.3" y1="1438.8" x2="954.3" y2="1424.2" stroke="#9a4a50" stroke-width="1.35"/>
<polygon points="954.3,1416.6 958.6,1425.2 950.0,1425.2" fill="#c1272d"/>
<line x1="1010.9" y1="1438.8" x2="1010.9" y2="1424.2" stroke="#9a4a50" stroke-width="1.35"/>
<polygon points="1010.9,1416.6 1015.2,1425.2 1006.6,1425.2" fill="#c1272d"/>
<line x1="1065.8" y1="1438.8" x2="1065.8" y2="1424.2" stroke="#9a4a50" stroke-width="1.35"/>
<polygon points="1065.8,1416.6 1070.1,1425.2 1061.5,1425.2" fill="#c1272d"/>
<line x1="962.8" y1="1433" x2="988.9" y2="1433" stroke="#4f4f4f" stroke-width="1.25"/>
<line x1="1032.7" y1="1433" x2="1059.5" y2="1433" stroke="#4f4f4f" stroke-width="1.25"/>
<line x1="962.1" y1="1442.8" x2="962.1" y2="1540.8" stroke="#4f4f4f" stroke-width="1.25"/>
<line x1="989.6" y1="1442.8" x2="989.6" y2="1540.8" stroke="#4f4f4f" stroke-width="1.25"/>
<line x1="1032.4" y1="1442.8" x2="1032.4" y2="1540.8" stroke="#4f4f4f" stroke-width="1.25"/>
<line x1="1059.5" y1="1442.8" x2="1059.5" y2="1540.8" stroke="#4f4f4f" stroke-width="1.25"/>
<line x1="989.6" y1="1540.8" x2="1032.4" y2="1540.8" stroke="#4f4f4f" stroke-width="1.25"/>
<line x1="1059.5" y1="1540.8" x2="1085" y2="1540.8" stroke="#4f4f4f" stroke-width="1.25"/>
<polyline points="951.2,1453.9 951.2,1464.3 934.3,1464.3" fill="none" stroke="#4f4f4f" stroke-width="1.25"/>
<polyline points="1071.5,1453.9 1071.5,1464.3 1085,1464.3" fill="none" stroke="#4f4f4f" stroke-width="1.25"/>
<line x1="939.9" y1="1408.0" x2="939.9" y2="1427.6" stroke="#3aa2c4" stroke-width="1.3"/>
<polygon points="939.9,1433.6 936.6,1426.6 943.1,1426.6" fill="#27aad8"/>
<line x1="1081.5" y1="1408.0" x2="1081.5" y2="1427.6" stroke="#3aa2c4" stroke-width="1.3"/>
<polygon points="1081.5,1433.6 1078.2,1426.6 1084.8,1426.6" fill="#27aad8"/>
<line x1="956.0" y1="1466.3" x2="956.0" y2="1481.2" stroke="#3aa2c4" stroke-width="1.4"/>
<polygon points="956.0,1488.5 951.9,1480.2 960.1,1480.2" fill="#27aad8"/>
<line x1="956.0" y1="1493.7" x2="956.0" y2="1509.3" stroke="#3aa2c4" stroke-width="1.4"/>
<polygon points="956.0,1516.6 951.9,1508.3 960.1,1508.3" fill="#27aad8"/>
<line x1="1066.3" y1="1466.3" x2="1066.3" y2="1481.2" stroke="#3aa2c4" stroke-width="1.4"/>
<polygon points="1066.3,1488.5 1062.1,1480.2 1070.5,1480.2" fill="#27aad8"/>
<line x1="1066.3" y1="1493.7" x2="1066.3" y2="1509.3" stroke="#3aa2c4" stroke-width="1.4"/>
<polygon points="1066.3,1516.6 1062.1,1508.3 1070.5,1508.3" fill="#27aad8"/>
<line x1="976.9" y1="1540.8" x2="976.9" y2="1486.3" stroke="#9a4a50" stroke-width="1.35"/>
<polygon points="976.9,1478.7 981.2,1487.3 972.6,1487.3" fill="#c1272d"/>
<line x1="1047.1" y1="1563.0" x2="1047.1" y2="1508.6" stroke="#9a4a50" stroke-width="1.35"/>
<polygon points="1047.1,1501.0 1051.4,1509.6 1042.8,1509.6" fill="#c1272d"/>
<line x1="939.9" y1="1519.2" x2="957.5" y2="1519.2" stroke="#333" stroke-width="1.3"/>
<line x1="994.8" y1="1519.2" x2="1026.2" y2="1519.2" stroke="#333" stroke-width="1.3"/>
<line x1="1065.4" y1="1519.2" x2="1081" y2="1519.2" stroke="#333" stroke-width="1.3"/>
<line x1="944.5" y1="1524.5" x2="953.5" y2="1524.5" stroke="#333" stroke-width="1.3"/>
<line x1="999.4" y1="1524.5" x2="1021.6" y2="1524.5" stroke="#333" stroke-width="1.3"/>
<line x1="1070" y1="1524.5" x2="1076.5" y2="1524.5" stroke="#333" stroke-width="1.3"/>
<g transform="translate(950,1387) scale(-1.0,1.0)"><path d="M-10,2 Q0,-6 10,2" fill="none" stroke="#7cc6e0" stroke-width="1.1"/><polygon points="12,3 2.5,-4.3 -1.5,-3.2 3.5,1.4" fill="#2a9fc6"/></g>
<g transform="translate(1073,1387) scale(1.0,1.0)"><path d="M-10,2 Q0,-6 10,2" fill="none" stroke="#7cc6e0" stroke-width="1.1"/><polygon points="12,3 2.5,-4.3 -1.5,-3.2 3.5,1.4" fill="#2a9fc6"/></g>
<g transform="translate(954,1450) scale(1.0,1.0)"><path d="M-10,2 Q0,-6 10,2" fill="none" stroke="#7cc6e0" stroke-width="1.1"/><polygon points="12,3 2.5,-4.3 -1.5,-3.2 3.5,1.4" fill="#2a9fc6"/></g>
<g transform="translate(1069,1450) scale(-1.0,1.0)"><path d="M-10,2 Q0,-6 10,2" fill="none" stroke="#7cc6e0" stroke-width="1.1"/><polygon points="12,3 2.5,-4.3 -1.5,-3.2 3.5,1.4" fill="#2a9fc6"/></g>
<line x1="908" y1="1540.5" x2="908" y2="1562" stroke="#4f4f4f" stroke-width="1.25"/>
<line x1="962.3" y1="1540.5" x2="962.3" y2="1562" stroke="#4f4f4f" stroke-width="1.25"/>
<line x1="908.7" y1="1540.5" x2="927" y2="1554.2" stroke="#4f4f4f" stroke-width="1.2"/>
<line x1="962.3" y1="1540.5" x2="943.3" y2="1554.2" stroke="#4f4f4f" stroke-width="1.2"/>
<line x1="921" y1="1540.5" x2="944" y2="1540.5" stroke="#4f4f4f" stroke-width="1.1"/>
<line x1="947" y1="1540.5" x2="960" y2="1540.5" stroke="#4f4f4f" stroke-width="1.1"/>
<line x1="847.3" y1="1550.7" x2="908" y2="1550.7" stroke="#4f4f4f" stroke-width="1.25"/>
<line x1="962.3" y1="1550.7" x2="978.6" y2="1550.7" stroke="#4f4f4f" stroke-width="1.25"/>
<line x1="847.3" y1="1562" x2="978.6" y2="1562" stroke="#4f4f4f" stroke-width="1.25"/>
<path d="M847.3,1550.7 A21,21 0 0 0 826.3,1571.8 L826.3,1605" fill="none" stroke="#4f4f4f" stroke-width="1.25"/>
<path d="M847.3,1562 A9.8,9.8 0 0 0 837.5,1571.8 L837.5,1605" fill="none" stroke="#4f4f4f" stroke-width="1.25"/>
<path d="M978.6,1550.7 A21,21 0 0 1 999.6,1571.8 L999.6,1605" fill="none" stroke="#4f4f4f" stroke-width="1.25"/>
<path d="M978.6,1562 A9.9,9.9 0 0 1 988.5,1571.8 L988.5,1605" fill="none" stroke="#4f4f4f" stroke-width="1.25"/>
<line x1="847.3" y1="1550.7" x2="847.3" y2="1562" stroke="#4f4f4f" stroke-width="1.2"/>
<line x1="826.3" y1="1571.8" x2="837.5" y2="1571.8" stroke="#4f4f4f" stroke-width="1.2"/>
<line x1="978.6" y1="1550.7" x2="978.6" y2="1562" stroke="#4f4f4f" stroke-width="1.2"/>
<line x1="988.5" y1="1571.8" x2="999.6" y2="1571.8" stroke="#4f4f4f" stroke-width="1.2"/>
<path d="M824,1603 Q828,1599 832,1603 Q836,1607 840,1603" fill="none" stroke="#444" stroke-width="1.1"/>
<path d="M824,1617 Q828,1613 832,1617 Q836,1621 840,1617" fill="none" stroke="#444" stroke-width="1.1"/>
<line x1="826.3" y1="1617" x2="826.3" y2="1637.2" stroke="#4f4f4f" stroke-width="1.2"/>
<line x1="837.5" y1="1617" x2="837.5" y2="1637.2" stroke="#4f4f4f" stroke-width="1.2"/>
<path d="M986,1603 Q990,1599 994,1603 Q998,1607 1002,1603" fill="none" stroke="#444" stroke-width="1.1"/>
<path d="M986,1617 Q990,1613 994,1617 Q998,1621 1002,1617" fill="none" stroke="#444" stroke-width="1.1"/>
<line x1="988.3" y1="1617" x2="988.3" y2="1637.2" stroke="#4f4f4f" stroke-width="1.2"/>
<line x1="999.5" y1="1617" x2="999.5" y2="1637.2" stroke="#4f4f4f" stroke-width="1.2"/>
<line x1="890.4" y1="1556.5" x2="875.5" y2="1556.5" stroke="#3aa2c4" stroke-width="1.4"/>
<polygon points="868.2,1556.5 876.5,1552.3 876.5,1560.7" fill="#27aad8"/>
<line x1="964.3" y1="1556.5" x2="979.9" y2="1556.5" stroke="#3aa2c4" stroke-width="1.4"/>
<polygon points="987.2,1556.5 978.9,1560.7 978.9,1552.3" fill="#27aad8"/>
<line x1="832.0" y1="1577.0" x2="832.0" y2="1592.0" stroke="#3aa2c4" stroke-width="1.4"/>
<polygon points="832.0,1599.3 827.9,1591.0 836.1,1591.0" fill="#27aad8"/>
<line x1="994.0" y1="1577.0" x2="994.0" y2="1592.0" stroke="#3aa2c4" stroke-width="1.4"/>
<polygon points="994.0,1599.3 989.9,1591.0 998.1,1591.0" fill="#27aad8"/>
<line x1="832.0" y1="1625.4" x2="832.0" y2="1640.4" stroke="#3aa2c4" stroke-width="1.4"/>
<polygon points="832.0,1647.7 827.9,1639.4 836.1,1639.4" fill="#27aad8"/>
<line x1="993.6" y1="1625.4" x2="993.6" y2="1640.4" stroke="#3aa2c4" stroke-width="1.4"/>
<polygon points="993.6,1647.7 989.5,1639.4 997.8,1639.4" fill="#27aad8"/>
<line x1="772.7" y1="1649.2" x2="892.9" y2="1649.2" stroke="#4f4f4f" stroke-width="1.25"/>
<line x1="934" y1="1649.2" x2="1053.3" y2="1649.2" stroke="#4f4f4f" stroke-width="1.25"/>
<line x1="772.7" y1="1638.5" x2="772.7" y2="1682" stroke="#4f4f4f" stroke-width="1.25"/>
<line x1="892.9" y1="1638.5" x2="892.9" y2="1682" stroke="#4f4f4f" stroke-width="1.25"/>
<line x1="934" y1="1638.5" x2="934" y2="1682" stroke="#4f4f4f" stroke-width="1.25"/>
<line x1="1053.3" y1="1638.5" x2="1053.3" y2="1682" stroke="#4f4f4f" stroke-width="1.25"/>
<line x1="821.2" y1="1627.3" x2="821.2" y2="1649.2" stroke="#4f4f4f" stroke-width="1.25"/>
<line x1="844.4" y1="1627.3" x2="844.4" y2="1649.2" stroke="#4f4f4f" stroke-width="1.25"/>
<line x1="982.4" y1="1627.3" x2="982.4" y2="1649.2" stroke="#4f4f4f" stroke-width="1.25"/>
<line x1="1005.3" y1="1627.3" x2="1005.3" y2="1649.2" stroke="#4f4f4f" stroke-width="1.25"/>
<line x1="798.6" y1="1674.6" x2="798.6" y2="1634.9" stroke="#9a4a50" stroke-width="1.35"/>
<polygon points="798.6,1627.3 802.9,1635.9 794.3,1635.9" fill="#c1272d"/>
<line x1="867.3" y1="1674.6" x2="867.3" y2="1634.9" stroke="#9a4a50" stroke-width="1.35"/>
<polygon points="867.3,1627.3 871.6,1635.9 863.0,1635.9" fill="#c1272d"/>
<line x1="959.3" y1="1674.6" x2="959.3" y2="1634.9" stroke="#9a4a50" stroke-width="1.35"/>
<polygon points="959.3,1627.3 963.6,1635.9 955.0,1635.9" fill="#c1272d"/>
<line x1="1028.0" y1="1674.6" x2="1028.0" y2="1634.9" stroke="#9a4a50" stroke-width="1.35"/>
<polygon points="1028.0,1627.3 1032.3,1635.9 1023.7,1635.9" fill="#c1272d"/>
<line x1="764.8" y1="1651.0" x2="764.8" y2="1666.2" stroke="#3aa2c4" stroke-width="1.4"/>
<polygon points="764.8,1673.5 760.6,1665.2 768.9,1665.2" fill="#27aad8"/>
<line x1="912.8" y1="1651.0" x2="912.8" y2="1666.2" stroke="#3aa2c4" stroke-width="1.4"/>
<polygon points="912.8,1673.5 908.6,1665.2 916.9,1665.2" fill="#27aad8"/>
<line x1="1061.5" y1="1651.0" x2="1061.5" y2="1666.2" stroke="#3aa2c4" stroke-width="1.4"/>
<polygon points="1061.5,1673.5 1057.3,1665.2 1065.7,1665.2" fill="#27aad8"/>
<g transform="translate(773,1627) scale(-1.0,1.0)"><path d="M-10,2 Q0,-6 10,2" fill="none" stroke="#7cc6e0" stroke-width="1.1"/><polygon points="12,3 2.5,-4.3 -1.5,-3.2 3.5,1.4" fill="#2a9fc6"/></g>
<g transform="translate(892,1627) scale(1.0,1.0)"><path d="M-10,2 Q0,-6 10,2" fill="none" stroke="#7cc6e0" stroke-width="1.1"/><polygon points="12,3 2.5,-4.3 -1.5,-3.2 3.5,1.4" fill="#2a9fc6"/></g>
<g transform="translate(934,1627) scale(-1.0,1.0)"><path d="M-10,2 Q0,-6 10,2" fill="none" stroke="#7cc6e0" stroke-width="1.1"/><polygon points="12,3 2.5,-4.3 -1.5,-3.2 3.5,1.4" fill="#2a9fc6"/></g>
<g transform="translate(1052,1627) scale(1.0,1.0)"><path d="M-10,2 Q0,-6 10,2" fill="none" stroke="#7cc6e0" stroke-width="1.1"/><polygon points="12,3 2.5,-4.3 -1.5,-3.2 3.5,1.4" fill="#2a9fc6"/></g>
<line x1="772.7" y1="1845.5" x2="892.9" y2="1845.5" stroke="#4f4f4f" stroke-width="1.25"/>
<line x1="934" y1="1845.5" x2="1053.3" y2="1845.5" stroke="#4f4f4f" stroke-width="1.25"/>
<line x1="772.7" y1="1836" x2="772.7" y2="1898" stroke="#4f4f4f" stroke-width="1.25"/>
<line x1="892.9" y1="1836" x2="892.9" y2="1898" stroke="#4f4f4f" stroke-width="1.25"/>
<line x1="934" y1="1836" x2="934" y2="1898" stroke="#4f4f4f" stroke-width="1.25"/>
<line x1="1053.3" y1="1836" x2="1053.3" y2="1898" stroke="#4f4f4f" stroke-width="1.25"/>
<rect x="803.4" y="1856" width="12.4" height="10" fill="none" stroke="#444" stroke-width="1.2"/>
<rect x="820.4" y="1856" width="16.6" height="10" fill="none" stroke="#444" stroke-width="1.2"/>
<rect x="989.9" y="1856" width="12.4" height="10" fill="none" stroke="#444" stroke-width="1.2"/>
<rect x="1006.9" y="1856" width="16.6" height="10" fill="none" stroke="#444" stroke-width="1.2"/>
<polyline points="783.4,1888.3 783.4,1910 741,1910" fill="none" stroke="#4f4f4f" stroke-width="1.25"/>
<polyline points="880.4,1887.2 880.4,1909 946.4,1909 946.4,1887.2" fill="none" stroke="#4f4f4f" stroke-width="1.25"/>
<polyline points="1043.4,1888.3 1043.4,1910 1085,1910" fill="none" stroke="#4f4f4f" stroke-width="1.25"/>
<line x1="804" y1="1877" x2="804" y2="1974" stroke="#4f4f4f" stroke-width="1.25"/>
<line x1="836.4" y1="1877" x2="836.4" y2="1974" stroke="#4f4f4f" stroke-width="1.25"/>
<line x1="990.4" y1="1876" x2="990.4" y2="1974" stroke="#4f4f4f" stroke-width="1.25"/>
<line x1="1023" y1="1876" x2="1023" y2="1974" stroke="#4f4f4f" stroke-width="1.25"/>
<line x1="741" y1="1974" x2="804" y2="1974" stroke="#4f4f4f" stroke-width="1.25"/>
<line x1="836.4" y1="1974" x2="990.4" y2="1974" stroke="#4f4f4f" stroke-width="1.25"/>
<line x1="1023" y1="1974" x2="1085" y2="1974" stroke="#4f4f4f" stroke-width="1.25"/>
<circle cx="913" cy="1952.2" r="21" fill="none" stroke="#333" stroke-width="1.3"/>
<line x1="703.5" y1="1952.6" x2="913" y2="1952.6" stroke="#333" stroke-width="1.2"/>
<line x1="793.9" y1="1871.0" x2="793.9" y2="1831.2" stroke="#9a4a50" stroke-width="1.35"/>
<polygon points="793.9,1823.6 798.2,1832.2 789.6,1832.2" fill="#c1272d"/>
<line x1="858.6" y1="1871.0" x2="858.6" y2="1831.2" stroke="#9a4a50" stroke-width="1.35"/>
<polygon points="858.6,1823.6 862.9,1832.2 854.3,1832.2" fill="#c1272d"/>
<line x1="967.5" y1="1871.0" x2="967.5" y2="1831.2" stroke="#9a4a50" stroke-width="1.35"/>
<polygon points="967.5,1823.6 971.8,1832.2 963.2,1832.2" fill="#c1272d"/>
<line x1="1032.0" y1="1871.0" x2="1032.0" y2="1831.2" stroke="#9a4a50" stroke-width="1.35"/>
<polygon points="1032.0,1823.6 1036.3,1832.2 1027.7,1832.2" fill="#c1272d"/>
<line x1="1006.6" y1="1941.8" x2="1006.6" y2="1903.4" stroke="#9a4a50" stroke-width="1.35"/>
<polygon points="1006.6,1895.8 1010.9,1904.4 1002.3,1904.4" fill="#c1272d"/>
<line x1="820.0" y1="2031.8" x2="820.0" y2="1991.6" stroke="#9a4a50" stroke-width="1.35"/>
<polygon points="820.0,1984.0 824.3,1992.6 815.7,1992.6" fill="#c1272d"/>
<line x1="1006.4" y1="2031.8" x2="1006.4" y2="1991.6" stroke="#9a4a50" stroke-width="1.35"/>
<polygon points="1006.4,1984.0 1010.7,1992.6 1002.1,1992.6" fill="#c1272d"/>
<line x1="762.3" y1="1847.0" x2="762.3" y2="1862.4" stroke="#3aa2c4" stroke-width="1.4"/>
<polygon points="762.3,1869.7 758.1,1861.4 766.4,1861.4" fill="#27aad8"/>
<line x1="913.5" y1="1847.0" x2="913.5" y2="1862.4" stroke="#3aa2c4" stroke-width="1.4"/>
<polygon points="913.5,1869.7 909.4,1861.4 917.6,1861.4" fill="#27aad8"/>
<line x1="1064.0" y1="1847.0" x2="1064.0" y2="1862.4" stroke="#3aa2c4" stroke-width="1.4"/>
<polygon points="1064.0,1869.7 1059.8,1861.4 1068.2,1861.4" fill="#27aad8"/>
<line x1="793.9" y1="1889.6" x2="793.9" y2="1904.7" stroke="#3aa2c4" stroke-width="1.4"/>
<polygon points="793.9,1912.0 789.8,1903.7 798.0,1903.7" fill="#27aad8"/>
<line x1="793.9" y1="1918.0" x2="793.9" y2="1934.5" stroke="#3aa2c4" stroke-width="1.4"/>
<polygon points="793.9,1941.8 789.8,1933.5 798.0,1933.5" fill="#27aad8"/>
<line x1="865.0" y1="1889.6" x2="865.0" y2="1904.7" stroke="#3aa2c4" stroke-width="1.4"/>
<polygon points="865.0,1912.0 860.9,1903.7 869.1,1903.7" fill="#27aad8"/>
<line x1="865.0" y1="1918.0" x2="865.0" y2="1934.5" stroke="#3aa2c4" stroke-width="1.4"/>
<polygon points="865.0,1941.8 860.9,1933.5 869.1,1933.5" fill="#27aad8"/>
<line x1="960.8" y1="1889.6" x2="960.8" y2="1904.7" stroke="#3aa2c4" stroke-width="1.4"/>
<polygon points="960.8,1912.0 956.6,1903.7 964.9,1903.7" fill="#27aad8"/>
<line x1="960.8" y1="1918.0" x2="960.8" y2="1934.5" stroke="#3aa2c4" stroke-width="1.4"/>
<polygon points="960.8,1941.8 956.6,1933.5 964.9,1933.5" fill="#27aad8"/>
<line x1="1032.0" y1="1889.6" x2="1032.0" y2="1904.7" stroke="#3aa2c4" stroke-width="1.4"/>
<polygon points="1032.0,1912.0 1027.8,1903.7 1036.2,1903.7" fill="#27aad8"/>
<line x1="1032.0" y1="1918.0" x2="1032.0" y2="1934.5" stroke="#3aa2c4" stroke-width="1.4"/>
<polygon points="1032.0,1941.8 1027.8,1933.5 1036.2,1933.5" fill="#27aad8"/>
<g transform="translate(773,1822) scale(-1.0,1.0)"><path d="M-10,2 Q0,-6 10,2" fill="none" stroke="#7cc6e0" stroke-width="1.1"/><polygon points="12,3 2.5,-4.3 -1.5,-3.2 3.5,1.4" fill="#2a9fc6"/></g>
<g transform="translate(892,1822) scale(1.0,1.0)"><path d="M-10,2 Q0,-6 10,2" fill="none" stroke="#7cc6e0" stroke-width="1.1"/><polygon points="12,3 2.5,-4.3 -1.5,-3.2 3.5,1.4" fill="#2a9fc6"/></g>
<g transform="translate(933,1822) scale(-1.0,1.0)"><path d="M-10,2 Q0,-6 10,2" fill="none" stroke="#7cc6e0" stroke-width="1.1"/><polygon points="12,3 2.5,-4.3 -1.5,-3.2 3.5,1.4" fill="#2a9fc6"/></g>
<g transform="translate(1053,1822) scale(1.0,1.0)"><path d="M-10,2 Q0,-6 10,2" fill="none" stroke="#7cc6e0" stroke-width="1.1"/><polygon points="12,3 2.5,-4.3 -1.5,-3.2 3.5,1.4" fill="#2a9fc6"/></g>
<g transform="translate(787,1880) scale(1.0,1.0)"><path d="M-10,2 Q0,-6 10,2" fill="none" stroke="#7cc6e0" stroke-width="1.1"/><polygon points="12,3 2.5,-4.3 -1.5,-3.2 3.5,1.4" fill="#2a9fc6"/></g>
<g transform="translate(877,1880) scale(-1.0,1.0)"><path d="M-10,2 Q0,-6 10,2" fill="none" stroke="#7cc6e0" stroke-width="1.1"/><polygon points="12,3 2.5,-4.3 -1.5,-3.2 3.5,1.4" fill="#2a9fc6"/></g>
<g transform="translate(949,1880) scale(1.0,1.0)"><path d="M-10,2 Q0,-6 10,2" fill="none" stroke="#7cc6e0" stroke-width="1.1"/><polygon points="12,3 2.5,-4.3 -1.5,-3.2 3.5,1.4" fill="#2a9fc6"/></g>
<g transform="translate(1037,1880) scale(-1.0,1.0)"><path d="M-10,2 Q0,-6 10,2" fill="none" stroke="#7cc6e0" stroke-width="1.1"/><polygon points="12,3 2.5,-4.3 -1.5,-3.2 3.5,1.4" fill="#2a9fc6"/></g>
<g transform="translate(873,1961) scale(1.0,-1.0)"><path d="M-10,2 Q0,-6 10,2" fill="none" stroke="#7cc6e0" stroke-width="1.1"/><polygon points="12,3 2.5,-4.3 -1.5,-3.2 3.5,1.4" fill="#2a9fc6"/></g>
<g transform="translate(953,1961) scale(-1.0,-1.0)"><path d="M-10,2 Q0,-6 10,2" fill="none" stroke="#7cc6e0" stroke-width="1.1"/><polygon points="12,3 2.5,-4.3 -1.5,-3.2 3.5,1.4" fill="#2a9fc6"/></g>
<path d="M982,1872 Q987,1866 993,1871" fill="none" stroke="#8e1b20" stroke-width="1.2"/><polygon points="981.5,1872.5 988,1866 990,1870" fill="#8e1b20"/>
<path d="M1020,1871 Q1026,1866 1031,1872" fill="none" stroke="#8e1b20" stroke-width="1.2"/><polygon points="1031.5,1872.5 1025,1866 1023,1870" fill="#8e1b20"/>
<line x1="713.3" y1="2051.3" x2="739.8" y2="2051.3" stroke="#555" stroke-width="1.2"/>
<line x1="713.3" y1="2074.5" x2="739.8" y2="2074.5" stroke="#555" stroke-width="1.2"/>
<line x1="713.3" y1="2046.3" x2="713.3" y2="2078.7" stroke="#666" stroke-width="1.2"/>
<line x1="759.7" y1="2058.8" x2="799.8" y2="2020.5" stroke="#9a4a50" stroke-width="1.35"/>
<polygon points="805.3,2015.2 802.1,2024.3 796.1,2018.0" fill="#c1272d"/>
<line x1="759.7" y1="2060.8" x2="809.3" y2="2088.4" stroke="#3aa2c4" stroke-width="1.4"/>
<polygon points="815.7,2092.0 806.4,2091.6 810.5,2084.3" fill="#27aad8"/>
<line x1="761" y1="2149.2" x2="1054" y2="2149.2" stroke="#333" stroke-width="1.1"/>
<line x1="783.8" y1="2152.3" x2="907.5" y2="2152.3" stroke="#999" stroke-width="1.1"/>
<line x1="797.9" y1="2155.5" x2="892.9" y2="2155.5" stroke="#444" stroke-width="1.1"/>
<line x1="761" y1="2215.4" x2="1054" y2="2215.4" stroke="#333" stroke-width="1.1"/>
<line x1="783.8" y1="2218.4" x2="907.5" y2="2218.4" stroke="#999" stroke-width="1.1"/>
<line x1="797.9" y1="2221.2" x2="892.9" y2="2221.2" stroke="#444" stroke-width="1.1"/>
<rect x="899" y="2316" width="29" height="17.6" fill="#fff" stroke="#555" stroke-width="1.1"/>
<line x1="899" y1="2316" x2="928" y2="2333.6" stroke="#4f4f4f" stroke-width="1"/>
<line x1="928" y1="2316" x2="899" y2="2333.6" stroke="#4f4f4f" stroke-width="1"/>
<path d="M913,2334.5 L913,2391.7 Q913,2412.4 892,2412.4 L713.3,2412.4" fill="none" stroke="#555" stroke-width="1.1"/>
<line x1="713.3" y1="2400" x2="713.3" y2="2424" stroke="#666" stroke-width="1.1"/>
</svg></body></html>
